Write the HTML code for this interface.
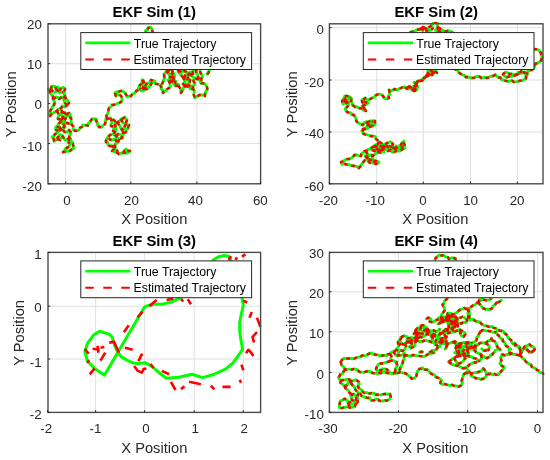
<!DOCTYPE html>
<html><head><meta charset="utf-8"><title>EKF Sim</title>
<style>html,body{margin:0;padding:0;background:#fff;}svg{display:block;filter:blur(0.45px);}text{font-family:"Liberation Sans", Arial, Helvetica, sans-serif;fill:#262626;}
.tk{font-size:13.33px;}.lb{font-size:14.67px;}.tt{font-size:14.9px;font-weight:bold;fill:#000;}.lg{font-size:12.35px;fill:#000;}
.g{fill:none;stroke:#00ff00;stroke-width:2.8;stroke-linejoin:round;stroke-linecap:round;}
.r{fill:none;stroke:#ff0000;stroke-width:2.4;stroke-linejoin:round;stroke-dasharray:3.6 3.8;}
.r3{fill:none;stroke:#ff0000;stroke-width:2.6;stroke-linejoin:round;}.g3{fill:none;stroke:#00ff00;stroke-width:3.0;stroke-linejoin:round;stroke-linecap:butt;}
.gr{stroke:#e0e0e0;stroke-width:1;}.ax{fill:none;stroke:#4a4a4a;stroke-width:1.4;}
</style></head><body>
<svg width="550" height="460" viewBox="0 0 550 460">
<rect width="550" height="460" fill="#fff"/>
<defs><clipPath id="t1"><rect x="329.0" y="298.0" width="69.0" height="114.5"/></clipPath><clipPath id="t2"><rect x="398.0" y="297.0" width="42.0" height="55.0"/></clipPath><clipPath id="t6"><rect x="440.0" y="297.0" width="58.0" height="53.0"/></clipPath><clipPath id="t3"><rect x="398.0" y="352.0" width="68.0" height="60.5"/></clipPath><clipPath id="t4"><rect x="498.0" y="296.0" width="46.0" height="54.0"/></clipPath><clipPath id="t5"><rect x="466.0" y="350.0" width="78.0" height="62.5"/></clipPath></defs>
<g>
<clipPath id="c1"><rect x="46.8" y="22.0" width="215.0" height="163.0"/></clipPath>
<line class="gr" x1="65.7" y1="23.8" x2="65.7" y2="183.8"/>
<line class="gr" x1="130.8" y1="23.8" x2="130.8" y2="183.8"/>
<line class="gr" x1="196.9" y1="23.8" x2="196.9" y2="183.8"/>
<line class="gr" x1="48.0" y1="63.7" x2="260.6" y2="63.7"/>
<line class="gr" x1="48.0" y1="103.6" x2="260.6" y2="103.6"/>
<line class="gr" x1="48.0" y1="143.6" x2="260.6" y2="143.6"/>
<g clip-path="url(#c1)">
<polyline class="g" points="67.0,105.0 65.0,103.0 64.0,100.0 64.4,97.0 65.0,96.0 64.2,94.2 64.0,92.0 65.0,89.0 63.5,87.4 62.0,87.6 60.0,90.0 60.0,89.1 58.0,87.0 56.0,89.0 55.4,86.7 53.0,86.0 51.5,86.6 51.0,89.0 48.0,89.0 49.6,90.0 50.0,92.0 50.3,93.3 52.0,95.0 53.3,97.6 53.0,99.0 53.5,99.8 55.0,102.0 54.0,105.0 52.0,107.0 52.1,108.6 50.6,110.0 49.4,113.0 50.0,116.0 51.9,113.7 53.0,113.0 54.1,112.4 57.0,111.0 58.4,109.1 60.0,109.0 61.9,110.8 62.0,112.0 61.0,115.0 62.6,115.7 63.0,118.0 66.0,117.0 67.0,114.0 69.0,113.0 70.2,114.1 70.0,117.0 71.2,118.9 71.0,121.0 71.2,123.1 72.0,125.0 73.4,126.5 73.0,129.0 73.8,130.1 76.0,131.0 79.0,130.0 80.0,127.7 82.0,127.0 82.8,125.1 85.0,125.0 88.0,125.6 88.4,123.4 90.0,122.0 90.6,121.0 92.0,119.0 93.6,119.0 96.0,119.0 96.1,120.7 97.4,123.0 97.2,124.5 99.0,127.0 102.0,127.0 102.5,126.0 105.0,124.0 105.6,120.9 106.0,119.0 106.6,117.9 106.5,115.6 108.0,113.0 108.4,110.5 109.0,108.0 111.2,106.3 112.0,105.0 114.0,104.9 116.0,104.0 119.5,102.7 121.0,102.0 122.2,100.4 122.0,98.0 121.3,96.3 120.0,95.0 117.7,94.6 116.0,96.0 115.0,93.6 115.8,91.9 118.0,92.0 120.5,91.0 122.0,91.0 122.8,91.2 125.0,93.0 126.7,95.7 127.0,97.0 129.3,96.1 131.0,96.0 132.5,94.1 135.0,93.0 136.4,90.8 138.0,90.0 138.9,87.0 140.0,85.0 141.9,83.4 142.0,80.0 143.1,81.5 144.0,84.0 145.4,86.1 145.0,89.0 143.0,91.0 144.7,89.0 147.0,89.0 148.3,87.4 150.0,86.0 151.5,83.4 153.0,82.0 155.0,81.0"/>
<polyline class="g" points="63.0,118.0 62.0,118.5 61.0,121.0 61.5,121.7 63.0,124.0 63.8,124.6 65.0,127.0 62.5,127.6 62.0,129.0 60.0,130.2 59.0,131.0 57.1,133.0 55.0,134.0 53.8,135.9 52.0,137.0 53.8,138.8 54.0,141.0 55.2,141.0 57.0,139.0 57.8,137.4 60.0,135.0 61.8,135.1 63.0,137.0 64.7,139.3 65.0,140.0 68.0,139.0 69.8,140.5 71.0,141.0 72.6,142.3 73.0,145.0 74.0,148.0 72.5,149.0 71.0,150.0 69.7,151.1 67.0,151.0 65.7,151.7 63.0,152.0 64.8,150.9 65.0,149.0 67.4,147.5 69.0,147.0 70.0,144.0 68.0,142.0"/>
<polyline class="g" points="65.0,96.0 65.1,97.3 67.0,100.0 67.7,100.7 69.0,103.0 67.0,105.0"/>
<polyline class="g" points="60.0,109.0 61.7,107.6 62.0,106.0 65.0,107.0 67.0,105.0"/>
<polyline class="g" points="62.0,112.0 65.0,113.0 65.8,115.3 66.0,117.0 65.4,119.0 64.0,121.0 64.5,122.6 67.0,123.0 70.0,124.0"/>
<polyline class="g" points="61.0,121.0 60.0,122.5 58.0,124.0 59.1,126.3 60.0,128.0 60.6,129.5 63.0,130.0 63.5,127.6 65.0,127.0"/>
<polyline class="g" points="106.0,119.0 107.5,119.0 110.0,118.0 111.4,119.5 114.0,120.0 115.5,122.0 115.0,124.0 116.3,123.0 118.0,122.0 119.9,121.0 121.0,119.0 123.2,118.3 125.0,117.0 125.2,117.8 127.0,120.0 126.0,122.5 126.0,124.0 129.0,125.0 128.1,127.1 128.0,129.0 126.0,129.6 126.0,132.0 124.0,133.3 123.0,134.0 122.9,136.4 122.0,138.0 119.0,139.0 117.1,137.5 116.0,136.0 114.0,134.0 111.9,134.4 110.0,135.0 107.7,137.3 107.0,138.0 105.9,141.0 106.0,142.0 107.9,142.5 108.0,145.0 109.9,146.1 112.0,146.0 113.9,147.4 114.0,149.0 112.0,151.0 115.0,152.0 116.5,152.4 119.0,154.0 121.9,152.9 123.0,153.0 124.7,150.3 126.0,149.0 128.0,150.9 130.0,151.0 128.0,153.0 125.3,153.1 124.0,152.0"/>
<polyline class="g" points="115.0,124.0 115.5,126.8 116.0,128.0 115.9,129.5 115.0,132.0 114.0,134.0"/>
<polyline class="g" points="119.0,139.0 118.8,141.0 117.0,143.0 115.0,144.0 115.0,147.0 114.0,149.0"/>
<polyline class="g" points="126.0,124.0 125.0,125.9 124.0,128.0 123.3,129.3 123.0,131.6 123.0,134.0"/>
<polyline class="g" points="145.0,86.0 147.2,83.5 148.0,83.0 150.0,82.2 151.0,80.0 154.0,81.0 154.7,83.4 157.0,84.0 160.0,85.0 161.9,84.3 163.0,82.0 163.6,79.7 165.0,78.0 164.3,77.0 164.0,74.0 165.7,72.7 167.0,72.0 168.4,70.6 170.0,70.0 170.1,67.7 172.0,67.0"/>
<polyline class="g" points="160.0,85.0 161.2,86.6 161.0,89.0 162.9,90.5 163.0,93.0 164.0,92.0 166.0,91.0 166.9,89.2 169.0,88.0 170.4,86.8 170.0,84.0 169.6,82.3 168.0,80.0 169.8,79.4 170.0,77.0 173.0,78.0 174.1,80.4 175.0,82.0 175.6,83.5 178.0,84.0 178.9,86.5 180.0,88.0 180.8,90.1 181.0,93.0 181.1,92.4 183.0,90.0 183.3,87.9 185.0,86.0 186.2,84.6 188.0,84.0 189.5,83.0 190.0,80.0 188.5,78.3 188.0,76.0 188.6,74.1 190.0,72.0 191.3,72.3 193.0,74.0 192.8,71.4 194.0,70.0 195.0,67.0"/>
<polyline class="g" points="185.0,86.0 187.8,86.5 189.0,87.0 190.4,88.8 193.0,89.0 194.5,90.9 194.0,93.0 193.8,94.9 195.0,98.0 195.7,96.7 198.0,96.0 199.2,95.0 202.0,95.0 205.0,96.0 205.0,93.6 206.0,91.0 207.3,89.5 207.0,87.0 205.8,85.3 205.0,84.0 203.0,83.3 201.0,83.0 199.7,80.1 199.0,79.0 198.1,77.9 198.0,75.0 196.3,73.0 196.0,71.0 197.0,68.0"/>
<polyline class="g" points="207.0,74.0 208.3,73.2 209.0,71.0 210.0,69.0"/>
<polyline class="g" points="178.0,69.0 178.4,71.0 180.0,74.0 181.0,75.3 183.0,77.0 184.4,79.4 186.0,80.0 187.7,78.7 188.0,76.0"/>
<polyline class="g" points="172.0,69.0 172.0,70.6 174.0,74.0 173.4,76.3 172.0,77.0 170.0,77.0"/>
<polyline class="g" points="143.0,80.0 143.9,82.2 145.0,84.0 143.0,86.3 143.0,89.0 141.0,91.0 140.0,88.0"/>
<polyline class="g" points="144.0,34.4 145.7,33.1 145.6,30.4 147.5,30.1 148.0,28.0 150.4,27.2 152.2,29.6 152.3,31.2 153.4,34.4"/>
<polyline class="g" points="51.0,89.0 51.8,90.5 54.0,92.0 55.9,91.9 57.0,90.0 58.9,91.8 60.0,93.0 63.0,92.0"/>
<polyline class="g" points="53.0,99.0 55.0,97.9 56.0,97.0 57.6,97.1 59.0,99.0 61.1,97.5 62.0,97.0 63.8,98.8 64.0,100.0"/>
<polyline class="g" points="57.0,111.0 57.6,112.3 59.0,115.0 58.0,117.3 58.0,119.0 59.9,119.2 61.0,121.0"/>
<polyline class="g" points="65.0,113.0 65.6,114.0 68.0,115.0 69.7,115.8 71.0,117.0"/>
<polyline class="g" points="60.0,128.0 57.9,127.2 57.0,126.0 55.5,127.6 56.0,130.0 59.0,131.0"/>
<polyline class="g" points="63.0,130.0 64.4,131.9 66.0,132.0 67.8,131.8 69.0,130.0 70.0,131.0 71.0,133.0 69.5,135.9 69.0,137.0 70.4,138.6 71.0,141.0"/>
<polyline class="g" points="57.0,139.0 60.0,140.0 60.5,138.5 63.0,137.0"/>
<polyline class="g" points="110.0,118.0 111.3,119.8 112.0,122.0 111.0,124.3 111.0,126.0 113.4,126.5 114.0,128.0 113.0,131.0 115.0,132.0"/>
<polyline class="g" points="118.0,122.0 118.1,123.7 120.0,126.0 120.8,128.4 122.0,130.0 124.0,128.0"/>
<polyline class="g" points="116.0,136.0 118.0,134.0 121.0,135.0 122.0,138.0"/>
<polyline class="g" points="109.0,138.0 109.9,139.6 112.0,140.0 115.0,139.0 116.5,141.0 117.0,143.0"/>
<polyline class="g" points="112.0,146.0 115.0,147.0 115.4,149.4 117.0,150.0 117.6,152.6 119.0,154.0"/>
<polyline class="g" points="121.0,119.0 121.5,120.4 123.0,123.0 126.0,124.0"/>
<polyline class="g" points="166.0,71.0 168.0,72.6 169.0,75.0 171.4,74.0 172.0,73.0 172.9,73.9 175.0,76.0 173.8,78.3 173.0,80.0 176.0,81.0"/>
<polyline class="g" points="178.0,71.0 180.4,71.3 181.0,73.0 182.3,71.4 184.0,71.0 186.4,71.8 187.0,74.0 185.1,75.1 185.0,78.0 186.3,79.8 188.0,80.0"/>
<polyline class="g" points="170.0,80.0 172.3,82.0 173.0,83.0 175.5,85.4 176.0,86.0 179.0,85.0"/>
<polyline class="g" points="183.0,77.0 183.7,78.4 185.0,81.0 184.9,83.0 183.0,84.0 185.0,86.0"/>
<polyline class="g" points="191.0,73.0 191.1,75.3 193.0,77.0 194.3,77.7 196.0,79.0 199.0,79.0"/>
<polyline class="g" points="193.0,80.0 193.7,81.3 195.0,84.0 193.0,86.1 193.0,89.0"/>
<polyline class="g" points="188.0,84.0 189.2,85.9 191.0,86.0 191.2,88.4 193.0,89.0"/>
<polyline class="g" points="200.0,71.0 200.4,72.7 202.0,75.0 202.4,77.6 201.4,78.1 201.2,80.7 201.0,83.0"/>
<polyline class="r" points="67.0,105.0 65.0,103.0 64.0,100.0 64.4,97.0 65.0,96.0 64.2,94.2 64.0,92.0 65.0,89.0 63.5,87.4 62.0,87.6 60.0,90.0 60.0,89.1 58.0,87.0 56.0,89.0 55.4,86.7 53.0,86.0 51.5,86.6 51.0,89.0 48.0,89.0 49.6,90.0 50.0,92.0 50.3,93.3 52.0,95.0 53.3,97.6 53.0,99.0 53.5,99.8 55.0,102.0 54.0,105.0 52.0,107.0 52.1,108.6 50.6,110.0 49.4,113.0 50.0,116.0 51.9,113.7 53.0,113.0 54.1,112.4 57.0,111.0 58.4,109.1 60.0,109.0 61.9,110.8 62.0,112.0 61.0,115.0 62.6,115.7 63.0,118.0 66.0,117.0 67.0,114.0 69.0,113.0 70.2,114.1 70.0,117.0 71.2,118.9 71.0,121.0 71.2,123.1 72.0,125.0 73.4,126.5 73.0,129.0 73.8,130.1 76.0,131.0 79.0,130.0 80.0,127.7 82.0,127.0 82.8,125.1 85.0,125.0 88.0,125.6 88.4,123.4 90.0,122.0 90.6,121.0 92.0,119.0 93.6,119.0 96.0,119.0 96.1,120.7 97.4,123.0 97.2,124.5 99.0,127.0 102.0,127.0 102.5,126.0 105.0,124.0 105.6,120.9 106.0,119.0 106.6,117.9 106.5,115.6 108.0,113.0 108.4,110.5 109.0,108.0 111.2,106.3 112.0,105.0 114.0,104.9 116.0,104.0 119.5,102.7 121.0,102.0 122.2,100.4 122.0,98.0 121.3,96.3 120.0,95.0 117.7,94.6 116.0,96.0 115.0,93.6 115.8,91.9 118.0,92.0 120.5,91.0 122.0,91.0 122.8,91.2 125.0,93.0 126.7,95.7 127.0,97.0 129.3,96.1 131.0,96.0 132.5,94.1 135.0,93.0 136.4,90.8 138.0,90.0 138.9,87.0 140.0,85.0 141.9,83.4 142.0,80.0 143.1,81.5 144.0,84.0 145.4,86.1 145.0,89.0 143.0,91.0 144.7,89.0 147.0,89.0 148.3,87.4 150.0,86.0 151.5,83.4 153.0,82.0 155.0,81.0"/>
<polyline class="r" points="63.0,118.0 62.0,118.5 61.0,121.0 61.5,121.7 63.0,124.0 63.8,124.6 65.0,127.0 62.5,127.6 62.0,129.0 60.0,130.2 59.0,131.0 57.1,133.0 55.0,134.0 53.8,135.9 52.0,137.0 53.8,138.8 54.0,141.0 55.2,141.0 57.0,139.0 57.8,137.4 60.0,135.0 61.8,135.1 63.0,137.0 64.7,139.3 65.0,140.0 68.0,139.0 69.8,140.5 71.0,141.0 72.6,142.3 73.0,145.0 74.0,148.0 72.5,149.0 71.0,150.0 69.7,151.1 67.0,151.0 65.7,151.7 63.0,152.0 64.8,150.9 65.0,149.0 67.4,147.5 69.0,147.0 70.0,144.0 68.0,142.0"/>
<polyline class="r" points="65.0,96.0 65.1,97.3 67.0,100.0 67.7,100.7 69.0,103.0 67.0,105.0"/>
<polyline class="r" points="60.0,109.0 61.7,107.6 62.0,106.0 65.0,107.0 67.0,105.0"/>
<polyline class="r" points="62.0,112.0 65.0,113.0 65.8,115.3 66.0,117.0 65.4,119.0 64.0,121.0 64.5,122.6 67.0,123.0 70.0,124.0"/>
<polyline class="r" points="61.0,121.0 60.0,122.5 58.0,124.0 59.1,126.3 60.0,128.0 60.6,129.5 63.0,130.0 63.5,127.6 65.0,127.0"/>
<polyline class="r" points="106.0,119.0 107.5,119.0 110.0,118.0 111.4,119.5 114.0,120.0 115.5,122.0 115.0,124.0 116.3,123.0 118.0,122.0 119.9,121.0 121.0,119.0 123.2,118.3 125.0,117.0 125.2,117.8 127.0,120.0 126.0,122.5 126.0,124.0 129.0,125.0 128.1,127.1 128.0,129.0 126.0,129.6 126.0,132.0 124.0,133.3 123.0,134.0 122.9,136.4 122.0,138.0 119.0,139.0 117.1,137.5 116.0,136.0 114.0,134.0 111.9,134.4 110.0,135.0 107.7,137.3 107.0,138.0 105.9,141.0 106.0,142.0 107.9,142.5 108.0,145.0 109.9,146.1 112.0,146.0 113.9,147.4 114.0,149.0 112.0,151.0 115.0,152.0 116.5,152.4 119.0,154.0 121.9,152.9 123.0,153.0 124.7,150.3 126.0,149.0 128.0,150.9 130.0,151.0 128.0,153.0 125.3,153.1 124.0,152.0"/>
<polyline class="r" points="115.0,124.0 115.5,126.8 116.0,128.0 115.9,129.5 115.0,132.0 114.0,134.0"/>
<polyline class="r" points="119.0,139.0 118.8,141.0 117.0,143.0 115.0,144.0 115.0,147.0 114.0,149.0"/>
<polyline class="r" points="126.0,124.0 125.0,125.9 124.0,128.0 123.3,129.3 123.0,131.6 123.0,134.0"/>
<polyline class="r" points="145.0,86.0 147.2,83.5 148.0,83.0 150.0,82.2 151.0,80.0 154.0,81.0 154.7,83.4 157.0,84.0 160.0,85.0 161.9,84.3 163.0,82.0 163.6,79.7 165.0,78.0 164.3,77.0 164.0,74.0 165.7,72.7 167.0,72.0 168.4,70.6 170.0,70.0 170.1,67.7 172.0,67.0"/>
<polyline class="r" points="160.0,85.0 161.2,86.6 161.0,89.0 162.9,90.5 163.0,93.0 164.0,92.0 166.0,91.0 166.9,89.2 169.0,88.0 170.4,86.8 170.0,84.0 169.6,82.3 168.0,80.0 169.8,79.4 170.0,77.0 173.0,78.0 174.1,80.4 175.0,82.0 175.6,83.5 178.0,84.0 178.9,86.5 180.0,88.0 180.8,90.1 181.0,93.0 181.1,92.4 183.0,90.0 183.3,87.9 185.0,86.0 186.2,84.6 188.0,84.0 189.5,83.0 190.0,80.0 188.5,78.3 188.0,76.0 188.6,74.1 190.0,72.0 191.3,72.3 193.0,74.0 192.8,71.4 194.0,70.0 195.0,67.0"/>
<polyline class="r" points="185.0,86.0 187.8,86.5 189.0,87.0 190.4,88.8 193.0,89.0 194.5,90.9 194.0,93.0 193.8,94.9 195.0,98.0 195.7,96.7 198.0,96.0 199.2,95.0 202.0,95.0 205.0,96.0 205.0,93.6 206.0,91.0 207.3,89.5 207.0,87.0 205.8,85.3 205.0,84.0 203.0,83.3 201.0,83.0 199.7,80.1 199.0,79.0 198.1,77.9 198.0,75.0 196.3,73.0 196.0,71.0 197.0,68.0"/>
<polyline class="r" points="207.0,74.0 208.3,73.2 209.0,71.0 210.0,69.0"/>
<polyline class="r" points="178.0,69.0 178.4,71.0 180.0,74.0 181.0,75.3 183.0,77.0 184.4,79.4 186.0,80.0 187.7,78.7 188.0,76.0"/>
<polyline class="r" points="172.0,69.0 172.0,70.6 174.0,74.0 173.4,76.3 172.0,77.0 170.0,77.0"/>
<polyline class="r" points="143.0,80.0 143.9,82.2 145.0,84.0 143.0,86.3 143.0,89.0 141.0,91.0 140.0,88.0"/>
<polyline class="r" points="144.0,34.4 145.7,33.1 145.6,30.4 147.5,30.1 148.0,28.0 150.4,27.2 152.2,29.6 152.3,31.2 153.4,34.4"/>
<polyline class="r" points="51.0,89.0 51.8,90.5 54.0,92.0 55.9,91.9 57.0,90.0 58.9,91.8 60.0,93.0 63.0,92.0"/>
<polyline class="r" points="53.0,99.0 55.0,97.9 56.0,97.0 57.6,97.1 59.0,99.0 61.1,97.5 62.0,97.0 63.8,98.8 64.0,100.0"/>
<polyline class="r" points="57.0,111.0 57.6,112.3 59.0,115.0 58.0,117.3 58.0,119.0 59.9,119.2 61.0,121.0"/>
<polyline class="r" points="65.0,113.0 65.6,114.0 68.0,115.0 69.7,115.8 71.0,117.0"/>
<polyline class="r" points="60.0,128.0 57.9,127.2 57.0,126.0 55.5,127.6 56.0,130.0 59.0,131.0"/>
<polyline class="r" points="63.0,130.0 64.4,131.9 66.0,132.0 67.8,131.8 69.0,130.0 70.0,131.0 71.0,133.0 69.5,135.9 69.0,137.0 70.4,138.6 71.0,141.0"/>
<polyline class="r" points="57.0,139.0 60.0,140.0 60.5,138.5 63.0,137.0"/>
<polyline class="r" points="110.0,118.0 111.3,119.8 112.0,122.0 111.0,124.3 111.0,126.0 113.4,126.5 114.0,128.0 113.0,131.0 115.0,132.0"/>
<polyline class="r" points="118.0,122.0 118.1,123.7 120.0,126.0 120.8,128.4 122.0,130.0 124.0,128.0"/>
<polyline class="r" points="116.0,136.0 118.0,134.0 121.0,135.0 122.0,138.0"/>
<polyline class="r" points="109.0,138.0 109.9,139.6 112.0,140.0 115.0,139.0 116.5,141.0 117.0,143.0"/>
<polyline class="r" points="112.0,146.0 115.0,147.0 115.4,149.4 117.0,150.0 117.6,152.6 119.0,154.0"/>
<polyline class="r" points="121.0,119.0 121.5,120.4 123.0,123.0 126.0,124.0"/>
<polyline class="r" points="166.0,71.0 168.0,72.6 169.0,75.0 171.4,74.0 172.0,73.0 172.9,73.9 175.0,76.0 173.8,78.3 173.0,80.0 176.0,81.0"/>
<polyline class="r" points="178.0,71.0 180.4,71.3 181.0,73.0 182.3,71.4 184.0,71.0 186.4,71.8 187.0,74.0 185.1,75.1 185.0,78.0 186.3,79.8 188.0,80.0"/>
<polyline class="r" points="170.0,80.0 172.3,82.0 173.0,83.0 175.5,85.4 176.0,86.0 179.0,85.0"/>
<polyline class="r" points="183.0,77.0 183.7,78.4 185.0,81.0 184.9,83.0 183.0,84.0 185.0,86.0"/>
<polyline class="r" points="191.0,73.0 191.1,75.3 193.0,77.0 194.3,77.7 196.0,79.0 199.0,79.0"/>
<polyline class="r" points="193.0,80.0 193.7,81.3 195.0,84.0 193.0,86.1 193.0,89.0"/>
<polyline class="r" points="188.0,84.0 189.2,85.9 191.0,86.0 191.2,88.4 193.0,89.0"/>
<polyline class="r" points="200.0,71.0 200.4,72.7 202.0,75.0 202.4,77.6 201.4,78.1 201.2,80.7 201.0,83.0"/>
</g>
<rect class="ax" x="48.0" y="23.8" width="212.6" height="160.0"/>
<line x1="65.7" y1="183.8" x2="65.7" y2="181.6" stroke="#262626" stroke-width="1"/>
<text class="tk" x="67.0" y="204.6" text-anchor="middle">0</text>
<line x1="130.8" y1="183.8" x2="130.8" y2="181.6" stroke="#262626" stroke-width="1"/>
<text class="tk" x="131.4" y="204.6" text-anchor="middle">20</text>
<line x1="196.9" y1="183.8" x2="196.9" y2="181.6" stroke="#262626" stroke-width="1"/>
<text class="tk" x="195.4" y="204.6" text-anchor="middle">40</text>
<line x1="260.6" y1="183.8" x2="260.6" y2="181.6" stroke="#262626" stroke-width="1"/>
<text class="tk" x="260.3" y="204.6" text-anchor="middle">60</text>
<line x1="48.0" y1="23.8" x2="50.2" y2="23.8" stroke="#262626" stroke-width="1"/>
<text class="tk" x="41.8" y="29.1" text-anchor="end">20</text>
<line x1="48.0" y1="63.7" x2="50.2" y2="63.7" stroke="#262626" stroke-width="1"/>
<text class="tk" x="41.8" y="69.4" text-anchor="end">10</text>
<line x1="48.0" y1="103.6" x2="50.2" y2="103.6" stroke="#262626" stroke-width="1"/>
<text class="tk" x="41.8" y="109.4" text-anchor="end">0</text>
<line x1="48.0" y1="143.6" x2="50.2" y2="143.6" stroke="#262626" stroke-width="1"/>
<text class="tk" x="41.8" y="150.9" text-anchor="end">-10</text>
<line x1="48.0" y1="183.8" x2="50.2" y2="183.8" stroke="#262626" stroke-width="1"/>
<text class="tk" x="41.8" y="190.9" text-anchor="end">-20</text>
<text class="tt" x="154.3" y="17.2" text-anchor="middle">EKF Sim (1)</text>
<text class="lb" x="154.3" y="224.0" text-anchor="middle">X Position</text>
<text class="lb" transform="translate(16.1,104.3) rotate(-90)" text-anchor="middle">Y Position</text>
<rect x="80.8" y="32.6" width="170.8" height="36.9" fill="#fff" stroke="#262626" stroke-width="1"/>
<line x1="85.3" y1="42.9" x2="130.5" y2="42.9" stroke="#00ff00" stroke-width="2.6"/>
<line x1="85.3" y1="59.5" x2="130.5" y2="59.5" stroke="#ff0000" stroke-width="2.0" stroke-dasharray="8.5 9.5"/>
<text class="lg" x="133.8" y="47.5">True Trajectory</text>
<text class="lg" x="133.5" y="64.1">Estimated Trajectory</text>
</g>
<g>
<clipPath id="c2"><rect x="328.2" y="22.0" width="216.0" height="163.0"/></clipPath>
<line class="gr" x1="376.7" y1="23.8" x2="376.7" y2="183.8"/>
<line class="gr" x1="423.3" y1="23.8" x2="423.3" y2="183.8"/>
<line class="gr" x1="470.5" y1="23.8" x2="470.5" y2="183.8"/>
<line class="gr" x1="517.4" y1="23.8" x2="517.4" y2="183.8"/>
<line class="gr" x1="329.4" y1="27.6" x2="543.0" y2="27.6"/>
<line class="gr" x1="329.4" y1="80.0" x2="543.0" y2="80.0"/>
<line class="gr" x1="329.4" y1="132.0" x2="543.0" y2="132.0"/>
<g clip-path="url(#c2)">
<polyline class="g" points="435.0,72.0 433.8,72.4 431.0,74.0 428.7,75.8 427.0,76.0 424.6,77.3 424.0,79.0 422.6,80.5 420.0,81.0 417.6,81.1 417.0,83.0 416.6,85.8 418.0,87.0 416.0,88.5 415.0,89.0 413.8,88.7 411.0,89.0 409.0,87.0 406.5,87.9 405.0,87.0 403.2,87.0 401.0,88.0 399.4,88.6 397.0,90.0 394.6,89.0 393.0,90.0 391.5,90.8 389.0,90.0 389.8,92.9 390.0,94.0 388.5,95.5 389.0,98.0 386.0,99.0 384.5,98.4 383.0,96.0 381.9,94.8 379.0,94.0 376.5,94.9 375.0,96.0 373.5,97.9 372.0,98.0 369.4,99.6 368.0,100.0 367.0,99.6 365.0,98.0 364.0,99.2 362.0,100.0 363.2,100.6 365.0,102.0 368.0,103.0 366.2,104.6 365.0,105.0 362.0,106.0 362.2,106.9 364.0,109.0 366.0,111.0 363.0,110.0 361.5,108.5 359.0,108.0 356.1,106.6 355.0,107.0 353.6,105.7 352.0,105.0 352.5,103.8 351.0,101.0 351.5,98.5 350.0,97.0 347.0,96.0 344.7,96.2 344.0,98.0 343.0,99.9 342.0,101.0 343.0,104.0 346.0,103.0 349.0,102.0 348.4,103.5 348.0,106.0 346.3,107.7 345.0,109.0 346.3,111.0 347.0,112.0 349.7,112.8 351.0,113.0 351.7,114.7 354.0,115.0 354.6,116.6 356.0,118.0 356.2,120.5 357.0,122.0 357.9,122.5 360.0,124.0 363.0,125.0 364.0,122.8 366.0,122.0 368.8,121.7 370.0,121.0 372.2,120.8 375.0,121.0 375.0,124.0 374.5,125.0 372.0,126.0 369.0,127.0 367.0,128.6 366.0,129.0 363.0,129.0 362.0,131.0 363.3,133.5 364.0,134.0 365.2,134.4 368.0,135.0 371.1,136.2 373.0,136.0 375.3,136.6 376.0,139.0 377.1,139.7 379.0,142.0"/>
<polyline class="g" points="362.0,131.0 362.9,130.4 365.0,128.0 366.7,127.4 368.0,125.0 369.2,124.7 371.0,123.0 371.9,124.0 373.0,126.0"/>
<polyline class="g" points="379.0,142.0 377.6,144.4 375.0,145.0 373.0,147.0 370.7,148.2 370.0,149.0 368.2,149.4 366.0,151.0 364.2,151.3 363.0,153.0 361.4,154.0 361.0,156.0 359.2,155.8 357.0,155.0 354.4,155.0 353.0,157.0 350.7,158.4 349.0,159.0 346.4,159.1 345.0,160.0 342.4,161.6 341.0,162.0 342.0,164.4 344.1,163.5 346.0,164.4 347.2,164.5 350.0,165.0 352.6,165.8 355.0,166.0 356.2,166.3 359.0,168.0 360.4,166.3 361.0,165.0 363.0,162.4 365.0,160.0 368.0,159.0 371.0,160.0 371.6,161.1 373.0,163.0 376.0,164.0 378.4,162.8 379.0,162.4 377.6,161.4 376.0,161.0 374.3,160.7 373.0,159.0 372.0,156.0 374.5,154.7 375.0,154.0 375.9,153.5 378.0,152.0 381.0,153.0 379.4,150.5 379.0,150.0 376.0,149.0 375.3,147.8 373.0,147.0"/>
<polyline class="g" points="379.0,142.0 381.6,143.3 383.0,145.0 385.8,143.9 387.0,143.0 390.0,142.0 390.8,142.0 393.0,144.0 392.0,147.0 393.6,148.3 395.0,149.0 397.3,147.2 398.0,147.0 399.7,145.7 401.0,145.0 402.0,142.8 403.0,142.0 404.0,141.0 403.9,143.0 404.6,145.0 405.0,148.0 404.4,148.0 402.0,149.6 400.0,150.9 398.0,151.0 396.9,150.9 394.0,152.0 391.8,151.9 391.0,150.0 388.0,151.0 387.5,150.0 385.0,149.0 382.0,150.0 379.0,150.0"/>
<polyline class="g" points="383.0,145.0 385.0,147.0 386.1,147.4 389.0,146.0 392.0,147.0"/>
<polyline class="g" points="366.0,151.0 366.8,153.3 368.0,154.0 367.2,156.1 366.0,157.0 368.0,159.0"/>
<polyline class="g" points="375.0,145.0 375.8,146.6 378.0,147.0 379.4,146.8 382.0,147.0 384.2,148.7 385.0,149.0"/>
<polyline class="g" points="373.0,147.0 376.0,146.0 379.0,145.0 379.9,145.4 382.0,147.0 385.0,146.0"/>
<polyline class="g" points="372.0,150.0 375.0,151.0 376.3,150.0 378.0,149.0 379.3,149.2 381.0,151.0 384.0,152.0"/>
<polyline class="g" points="387.0,145.0 387.5,146.9 389.0,148.0 392.0,149.0 394.0,147.0"/>
<polyline class="g" points="365.0,156.0 368.0,157.0 370.0,155.0 372.3,155.1 373.0,157.0"/>
<polyline class="g" points="368.0,161.0 370.0,163.0 371.6,162.5 373.0,161.0 375.0,162.4"/>
<polyline class="g" points="396.0,146.0 396.1,148.2 398.0,149.0 401.0,148.0 403.0,146.0"/>
<polyline class="g" points="344.0,98.0 346.0,100.0 349.0,99.0 350.0,97.0"/>
<polyline class="g" points="344.0,101.0 347.0,102.0 348.0,105.0"/>
<polyline class="g" points="362.0,100.0 362.2,102.2 364.0,104.0 363.0,107.0 365.0,109.0"/>
<polyline class="g" points="366.0,122.0 368.0,124.0 371.0,123.0 373.0,121.0"/>
<polyline class="g" points="410.1,32.2 412.7,31.7 415.2,30.7 417.3,29.8 420.3,29.2 422.3,28.2 424.1,27.6 426.3,28.8 427.9,30.2 429.0,27.3 430.4,26.4 432.2,24.4 433.5,22.5 435.5,21.8 437.6,23.1 437.3,25.9 438.1,27.6 437.4,28.8 435.5,30.2 437.4,30.8 440.6,31.5 442.4,30.7 445.7,31.5 448.1,30.6 450.8,31.5 452.6,32.7 454.6,34.0"/>
<polyline class="g" points="420.3,29.2 422.8,27.1 423.4,28.2 425.9,28.7 426.0,30.5 427.9,31.5 430.4,30.2 432.3,28.9 433.0,27.6"/>
<polyline class="g" points="438.1,27.6 440.6,28.9 443.2,30.7"/>
<polyline class="g" points="424.1,27.6 422.6,29.5 422.8,31.5 423.8,33.6 425.4,34.0"/>
<polyline class="g" points="405.0,87.4 406.8,88.8 410.1,88.7 413.0,89.8 413.9,90.0 415.8,87.5 416.5,86.2 416.1,84.2 413.9,82.3 416.7,82.5 417.7,81.1 419.0,81.0 421.5,79.8 424.3,77.7 425.4,77.3 427.0,76.5 429.2,74.7 427.9,73.6 427.9,70.9 430.4,69.6 431.9,71.5 434.3,72.2 434.2,70.3 435.5,68.3"/>
<polyline class="g" points="453.3,68.3 455.9,69.6 458.0,70.3 458.4,72.2 459.9,73.4 462.3,74.7 463.8,75.1 466.1,77.3 468.0,77.0 471.2,78.0 474.6,77.6 476.2,76.5 479.6,76.6 481.3,78.0 484.5,77.2 486.4,78.0 489.0,77.3 491.5,76.0 493.1,76.1 495.3,74.7 496.7,76.1 497.9,77.3 500.5,77.7 501.7,79.8 505.2,80.7 506.8,81.1 509.1,81.4 511.9,80.6 513.9,82.0 517.0,81.6 519.7,80.8 522.0,80.6 524.5,79.4 525.9,78.5 525.9,77.1 527.1,74.7 525.0,74.1 524.6,72.2 521.6,73.1 519.5,73.4 517.9,74.2 514.4,74.7 512.2,74.0 509.3,73.9 506.4,72.1 505.5,72.2 503.5,73.7 503.0,74.7 504.7,76.0 506.8,77.3 510.1,76.1 511.9,76.5 513.9,75.9 517.0,74.7 517.9,72.4 520.8,72.2 521.8,69.5 523.3,68.3"/>
<polyline class="g" points="533.5,49.3 535.8,49.1 538.6,50.0 540.0,51.7 541.1,53.1 541.2,55.2 542.4,56.9 541.7,58.1 541.1,60.7 540.1,61.5 537.3,63.3 535.3,63.7 534.8,65.8 533.8,68.5 532.2,69.6 530.9,70.1 528.4,70.9 527.3,71.8 527.1,74.7"/>
<polyline class="g" points="426.0,76.0 427.8,74.1 429.0,72.0 430.2,73.8 432.0,75.0 433.4,73.9 435.0,71.0 437.0,73.0 436.0,71.0 434.0,70.0 432.8,68.6 430.0,69.0"/>
<polyline class="g" points="409.0,86.0 410.6,87.3 412.0,89.0 413.0,86.6 415.0,86.0 416.6,87.0 417.0,90.0 414.0,91.0 412.6,90.4 411.0,88.0"/>
<polyline class="r" points="435.0,72.0 433.8,72.4 431.0,74.0 428.7,75.8 427.0,76.0 424.6,77.3 424.0,79.0 422.6,80.5 420.0,81.0 417.6,81.1 417.0,83.0 416.6,85.8 418.0,87.0 416.0,88.5 415.0,89.0 413.8,88.7 411.0,89.0 409.0,87.0 406.5,87.9 405.0,87.0 403.2,87.0 401.0,88.0 399.4,88.6 397.0,90.0 394.6,89.0 393.0,90.0 391.5,90.8 389.0,90.0 389.8,92.9 390.0,94.0 388.5,95.5 389.0,98.0 386.0,99.0 384.5,98.4 383.0,96.0 381.9,94.8 379.0,94.0 376.5,94.9 375.0,96.0 373.5,97.9 372.0,98.0 369.4,99.6 368.0,100.0 367.0,99.6 365.0,98.0 364.0,99.2 362.0,100.0 363.2,100.6 365.0,102.0 368.0,103.0 366.2,104.6 365.0,105.0 362.0,106.0 362.2,106.9 364.0,109.0 366.0,111.0 363.0,110.0 361.5,108.5 359.0,108.0 356.1,106.6 355.0,107.0 353.6,105.7 352.0,105.0 352.5,103.8 351.0,101.0 351.5,98.5 350.0,97.0 347.0,96.0 344.7,96.2 344.0,98.0 343.0,99.9 342.0,101.0 343.0,104.0 346.0,103.0 349.0,102.0 348.4,103.5 348.0,106.0 346.3,107.7 345.0,109.0 346.3,111.0 347.0,112.0 349.7,112.8 351.0,113.0 351.7,114.7 354.0,115.0 354.6,116.6 356.0,118.0 356.2,120.5 357.0,122.0 357.9,122.5 360.0,124.0 363.0,125.0 364.0,122.8 366.0,122.0 368.8,121.7 370.0,121.0 372.2,120.8 375.0,121.0 375.0,124.0 374.5,125.0 372.0,126.0 369.0,127.0 367.0,128.6 366.0,129.0 363.0,129.0 362.0,131.0 363.3,133.5 364.0,134.0 365.2,134.4 368.0,135.0 371.1,136.2 373.0,136.0 375.3,136.6 376.0,139.0 377.1,139.7 379.0,142.0"/>
<polyline class="r" points="362.0,131.0 362.9,130.4 365.0,128.0 366.7,127.4 368.0,125.0 369.2,124.7 371.0,123.0 371.9,124.0 373.0,126.0"/>
<polyline class="r" points="379.0,142.0 377.6,144.4 375.0,145.0 373.0,147.0 370.7,148.2 370.0,149.0 368.2,149.4 366.0,151.0 364.2,151.3 363.0,153.0 361.4,154.0 361.0,156.0 359.2,155.8 357.0,155.0 354.4,155.0 353.0,157.0 350.7,158.4 349.0,159.0 346.4,159.1 345.0,160.0 342.4,161.6 341.0,162.0 342.0,164.4 344.1,163.5 346.0,164.4 347.2,164.5 350.0,165.0 352.6,165.8 355.0,166.0 356.2,166.3 359.0,168.0 360.4,166.3 361.0,165.0 363.0,162.4 365.0,160.0 368.0,159.0 371.0,160.0 371.6,161.1 373.0,163.0 376.0,164.0 378.4,162.8 379.0,162.4 377.6,161.4 376.0,161.0 374.3,160.7 373.0,159.0 372.0,156.0 374.5,154.7 375.0,154.0 375.9,153.5 378.0,152.0 381.0,153.0 379.4,150.5 379.0,150.0 376.0,149.0 375.3,147.8 373.0,147.0"/>
<polyline class="r" points="379.0,142.0 381.6,143.3 383.0,145.0 385.8,143.9 387.0,143.0 390.0,142.0 390.8,142.0 393.0,144.0 392.0,147.0 393.6,148.3 395.0,149.0 397.3,147.2 398.0,147.0 399.7,145.7 401.0,145.0 402.0,142.8 403.0,142.0 404.0,141.0 403.9,143.0 404.6,145.0 405.0,148.0 404.4,148.0 402.0,149.6 400.0,150.9 398.0,151.0 396.9,150.9 394.0,152.0 391.8,151.9 391.0,150.0 388.0,151.0 387.5,150.0 385.0,149.0 382.0,150.0 379.0,150.0"/>
<polyline class="r" points="383.0,145.0 385.0,147.0 386.1,147.4 389.0,146.0 392.0,147.0"/>
<polyline class="r" points="366.0,151.0 366.8,153.3 368.0,154.0 367.2,156.1 366.0,157.0 368.0,159.0"/>
<polyline class="r" points="375.0,145.0 375.8,146.6 378.0,147.0 379.4,146.8 382.0,147.0 384.2,148.7 385.0,149.0"/>
<polyline class="r" points="373.0,147.0 376.0,146.0 379.0,145.0 379.9,145.4 382.0,147.0 385.0,146.0"/>
<polyline class="r" points="372.0,150.0 375.0,151.0 376.3,150.0 378.0,149.0 379.3,149.2 381.0,151.0 384.0,152.0"/>
<polyline class="r" points="387.0,145.0 387.5,146.9 389.0,148.0 392.0,149.0 394.0,147.0"/>
<polyline class="r" points="365.0,156.0 368.0,157.0 370.0,155.0 372.3,155.1 373.0,157.0"/>
<polyline class="r" points="368.0,161.0 370.0,163.0 371.6,162.5 373.0,161.0 375.0,162.4"/>
<polyline class="r" points="396.0,146.0 396.1,148.2 398.0,149.0 401.0,148.0 403.0,146.0"/>
<polyline class="r" points="344.0,98.0 346.0,100.0 349.0,99.0 350.0,97.0"/>
<polyline class="r" points="344.0,101.0 347.0,102.0 348.0,105.0"/>
<polyline class="r" points="362.0,100.0 362.2,102.2 364.0,104.0 363.0,107.0 365.0,109.0"/>
<polyline class="r" points="366.0,122.0 368.0,124.0 371.0,123.0 373.0,121.0"/>
<polyline class="r" points="410.1,32.2 412.7,31.7 415.2,30.7 417.3,29.8 420.3,29.2 422.3,28.2 424.1,27.6 426.3,28.8 427.9,30.2 429.0,27.3 430.4,26.4 432.2,24.4 433.5,22.5 435.5,21.8 437.6,23.1 437.3,25.9 438.1,27.6 437.4,28.8 435.5,30.2 437.4,30.8 440.6,31.5 442.4,30.7 445.7,31.5 448.1,30.6 450.8,31.5 452.6,32.7 454.6,34.0"/>
<polyline class="r" points="420.3,29.2 422.8,27.1 423.4,28.2 425.9,28.7 426.0,30.5 427.9,31.5 430.4,30.2 432.3,28.9 433.0,27.6"/>
<polyline class="r" points="438.1,27.6 440.6,28.9 443.2,30.7"/>
<polyline class="r" points="424.1,27.6 422.6,29.5 422.8,31.5 423.8,33.6 425.4,34.0"/>
<polyline class="r" points="405.0,87.4 406.8,88.8 410.1,88.7 413.0,89.8 413.9,90.0 415.8,87.5 416.5,86.2 416.1,84.2 413.9,82.3 416.7,82.5 417.7,81.1 419.0,81.0 421.5,79.8 424.3,77.7 425.4,77.3 427.0,76.5 429.2,74.7 427.9,73.6 427.9,70.9 430.4,69.6 431.9,71.5 434.3,72.2 434.2,70.3 435.5,68.3"/>
<polyline class="r" points="453.3,68.3 455.9,69.6 458.0,70.3 458.4,72.2 459.9,73.4 462.3,74.7 463.8,75.1 466.1,77.3 468.0,77.0 471.2,78.0 474.6,77.6 476.2,76.5 479.6,76.6 481.3,78.0 484.5,77.2 486.4,78.0 489.0,77.3 491.5,76.0 493.1,76.1 495.3,74.7 496.7,76.1 497.9,77.3 500.5,77.7 501.7,79.8 505.2,80.7 506.8,81.1 509.1,81.4 511.9,80.6 513.9,82.0 517.0,81.6 519.7,80.8 522.0,80.6 524.5,79.4 525.9,78.5 525.9,77.1 527.1,74.7 525.0,74.1 524.6,72.2 521.6,73.1 519.5,73.4 517.9,74.2 514.4,74.7 512.2,74.0 509.3,73.9 506.4,72.1 505.5,72.2 503.5,73.7 503.0,74.7 504.7,76.0 506.8,77.3 510.1,76.1 511.9,76.5 513.9,75.9 517.0,74.7 517.9,72.4 520.8,72.2 521.8,69.5 523.3,68.3"/>
<polyline class="r" points="533.5,49.3 535.8,49.1 538.6,50.0 540.0,51.7 541.1,53.1 541.2,55.2 542.4,56.9 541.7,58.1 541.1,60.7 540.1,61.5 537.3,63.3 535.3,63.7 534.8,65.8 533.8,68.5 532.2,69.6 530.9,70.1 528.4,70.9 527.3,71.8 527.1,74.7"/>
<polyline class="r" points="426.0,76.0 427.8,74.1 429.0,72.0 430.2,73.8 432.0,75.0 433.4,73.9 435.0,71.0 437.0,73.0 436.0,71.0 434.0,70.0 432.8,68.6 430.0,69.0"/>
<polyline class="r" points="409.0,86.0 410.6,87.3 412.0,89.0 413.0,86.6 415.0,86.0 416.6,87.0 417.0,90.0 414.0,91.0 412.6,90.4 411.0,88.0"/>
</g>
<rect class="ax" x="329.4" y="23.8" width="213.6" height="160.0"/>
<line x1="329.4" y1="183.8" x2="329.4" y2="181.6" stroke="#262626" stroke-width="1"/>
<text class="tk" x="328.4" y="204.6" text-anchor="middle">-20</text>
<line x1="376.7" y1="183.8" x2="376.7" y2="181.6" stroke="#262626" stroke-width="1"/>
<text class="tk" x="375.2" y="204.6" text-anchor="middle">-10</text>
<line x1="423.3" y1="183.8" x2="423.3" y2="181.6" stroke="#262626" stroke-width="1"/>
<text class="tk" x="423.0" y="204.6" text-anchor="middle">0</text>
<line x1="470.5" y1="183.8" x2="470.5" y2="181.6" stroke="#262626" stroke-width="1"/>
<text class="tk" x="470.6" y="204.6" text-anchor="middle">10</text>
<line x1="517.4" y1="183.8" x2="517.4" y2="181.6" stroke="#262626" stroke-width="1"/>
<text class="tk" x="517.1" y="204.6" text-anchor="middle">20</text>
<line x1="329.4" y1="27.6" x2="331.6" y2="27.6" stroke="#262626" stroke-width="1"/>
<text class="tk" x="323.8" y="33.5" text-anchor="end">0</text>
<line x1="329.4" y1="80.0" x2="331.6" y2="80.0" stroke="#262626" stroke-width="1"/>
<text class="tk" x="323.8" y="86.5" text-anchor="end">-20</text>
<line x1="329.4" y1="132.0" x2="331.6" y2="132.0" stroke="#262626" stroke-width="1"/>
<text class="tk" x="323.8" y="138.1" text-anchor="end">-40</text>
<line x1="329.4" y1="183.8" x2="331.6" y2="183.8" stroke="#262626" stroke-width="1"/>
<text class="tk" x="323.8" y="190.8" text-anchor="end">-60</text>
<text class="tt" x="436.2" y="17.2" text-anchor="middle">EKF Sim (2)</text>
<text class="lb" x="435.3" y="224.0" text-anchor="middle">X Position</text>
<text class="lb" transform="translate(297.2,104.3) rotate(-90)" text-anchor="middle">Y Position</text>
<rect x="363.3" y="32.6" width="170.7" height="36.9" fill="#fff" stroke="#262626" stroke-width="1"/>
<line x1="367.8" y1="42.9" x2="413.0" y2="42.9" stroke="#00ff00" stroke-width="2.6"/>
<line x1="367.8" y1="59.5" x2="413.0" y2="59.5" stroke="#ff0000" stroke-width="2.0" stroke-dasharray="8.5 9.5"/>
<text class="lg" x="416.3" y="47.5">True Trajectory</text>
<text class="lg" x="416.0" y="64.1">Estimated Trajectory</text>
</g>
<g>
<clipPath id="c3"><rect x="46.8" y="250.6" width="215.0" height="163.0"/></clipPath>
<line class="gr" x1="95.6" y1="252.4" x2="95.6" y2="412.4"/>
<line class="gr" x1="144.6" y1="252.4" x2="144.6" y2="412.4"/>
<line class="gr" x1="194.2" y1="252.4" x2="194.2" y2="412.4"/>
<line class="gr" x1="243.3" y1="252.4" x2="243.3" y2="412.4"/>
<line class="gr" x1="48.0" y1="306.2" x2="260.6" y2="306.2"/>
<line class="gr" x1="48.0" y1="359.0" x2="260.6" y2="359.0"/>
<g clip-path="url(#c3)">
<polyline class="g3" points="211.0,263.0 213.2,260.0 217.6,257.3 224.3,255.5 228.7,256.2 231.0,260.0 232.0,263.0"/>
<polyline class="g3" points="182.0,296.0 180.0,297.7 177.7,299.2 171.0,302.1 162.2,304.3 153.3,304.3 146.7,306.0 144.5,307.1 104.4,375.2 94.6,368.4 87.7,361.5 84.8,351.8 87.7,342.9 93.6,335.1 99.5,331.2 109.2,334.1 112.2,337.1 114.1,343.9 117.1,350.8 121.0,356.6 127.8,360.6 133.7,363.1 137.3,363.6 145.5,362.7 151.8,366.4 159.1,372.7 166.4,378.2 179.1,377.3 191.8,374.2 202.7,377.6 213.6,374.5 225.5,369.1 232.4,363.4 236.9,357.7 242.6,349.3 241.0,340.6 239.7,331.5 239.7,322.4 241.5,313.3 243.3,305.3 242.0,298.4 241.8,295.0"/>
<polyline class="r3" points="142.5,311.6 137.6,317.5"/>
<polyline class="r3" points="128.8,325.3 123.9,332.2"/>
<polyline class="r3" points="109.2,342.6 115.1,341.6"/>
<polyline class="r3" points="114.1,342.0 119.0,352.7"/>
<polyline class="r3" points="105.3,352.7 100.4,360.6"/>
<polyline class="r3" points="94.6,368.4 89.7,374.3"/>
<polyline class="r3" points="84.8,348.8 88.7,353.7"/>
<polyline class="r3" points="86.7,362.5 89.7,360.6"/>
<polyline class="r3" points="92.6,348.8 99.5,349.8"/>
<polyline class="r3" points="97.5,345.9 98.5,352.7"/>
<polyline class="r3" points="100.4,347.8 104.4,346.9"/>
<polyline class="r3" points="124.9,347.8 132.7,349.8"/>
<polyline class="r3" points="142.2,353.6 138.4,361.2"/>
<polyline class="r3" points="134.2,366.0 137.4,370.6 141.8,372.6 143.6,369.1 146.4,368.5"/>
<polyline class="r3" points="150.6,364.0 153.5,368.0"/>
<polyline class="r3" points="161.8,370.9 169.1,374.2"/>
<polyline class="r3" points="170.9,381.8 175.5,390.0"/>
<polyline class="r3" points="180.9,389.1 184.5,386.4"/>
<polyline class="r3" points="189.1,381.8 200.9,384.2"/>
<polyline class="r3" points="210.8,385.6 214.3,389.3"/>
<polyline class="r3" points="222.4,386.9 230.6,386.9"/>
<polyline class="r3" points="239.7,379.9 241.0,382.8"/>
<polyline class="r3" points="241.5,364.6 243.3,370.3"/>
<polyline class="r3" points="246.1,353.2 248.3,349.8 250.6,352.0 253.4,356.1"/>
<polyline class="r3" points="257.0,332.0 252.5,337.2 254.1,342.5"/>
<polyline class="r3" points="257.0,317.8 260.4,326.9"/>
<polyline class="r3" points="251.8,312.1 249.5,317.8"/>
<polyline class="r3" points="243.3,300.7 247.2,302.5"/>
<polyline class="r3" points="228.7,260.0 231.0,256.2"/>
<polyline class="r3" points="235.4,260.0 237.0,257.3"/>
<polyline class="r3" points="242.0,256.7 245.4,254.4"/>
<polyline class="r3" points="149.5,306.0 156.6,299.9"/>
<polyline class="r3" points="166.6,299.9 173.3,298.4"/>
<polyline class="r3" points="181.0,298.8 183.3,301.5"/>
<polyline class="r3" points="187.7,299.2 191.0,304.3"/>
</g>
<rect class="ax" x="48.0" y="252.4" width="212.6" height="160.0"/>
<line x1="47.6" y1="412.4" x2="47.6" y2="410.2" stroke="#262626" stroke-width="1"/>
<text class="tk" x="46.3" y="433.2" text-anchor="middle">-2</text>
<line x1="95.6" y1="412.4" x2="95.6" y2="410.2" stroke="#262626" stroke-width="1"/>
<text class="tk" x="95.5" y="433.2" text-anchor="middle">-1</text>
<line x1="144.6" y1="412.4" x2="144.6" y2="410.2" stroke="#262626" stroke-width="1"/>
<text class="tk" x="146.0" y="433.2" text-anchor="middle">0</text>
<line x1="194.2" y1="412.4" x2="194.2" y2="410.2" stroke="#262626" stroke-width="1"/>
<text class="tk" x="195.1" y="433.2" text-anchor="middle">1</text>
<line x1="243.3" y1="412.4" x2="243.3" y2="410.2" stroke="#262626" stroke-width="1"/>
<text class="tk" x="244.1" y="433.2" text-anchor="middle">2</text>
<line x1="48.0" y1="252.4" x2="50.2" y2="252.4" stroke="#262626" stroke-width="1"/>
<text class="tk" x="41.6" y="259.1" text-anchor="end">1</text>
<line x1="48.0" y1="306.2" x2="50.2" y2="306.2" stroke="#262626" stroke-width="1"/>
<text class="tk" x="41.6" y="312.4" text-anchor="end">0</text>
<line x1="48.0" y1="359.0" x2="50.2" y2="359.0" stroke="#262626" stroke-width="1"/>
<text class="tk" x="41.6" y="367.2" text-anchor="end">-1</text>
<line x1="48.0" y1="412.4" x2="50.2" y2="412.4" stroke="#262626" stroke-width="1"/>
<text class="tk" x="41.6" y="419.4" text-anchor="end">-2</text>
<text class="tt" x="154.3" y="245.8" text-anchor="middle">EKF Sim (3)</text>
<text class="lb" x="154.3" y="452.6" text-anchor="middle">X Position</text>
<text class="lb" transform="translate(23.6,332.9) rotate(-90)" text-anchor="middle">Y Position</text>
<rect x="80.8" y="260.9" width="170.8" height="36.8" fill="#fff" stroke="#262626" stroke-width="1"/>
<line x1="85.3" y1="271.2" x2="130.5" y2="271.2" stroke="#00ff00" stroke-width="2.6"/>
<line x1="85.3" y1="287.8" x2="130.5" y2="287.8" stroke="#ff0000" stroke-width="2.0" stroke-dasharray="8.5 9.5"/>
<text class="lg" x="133.8" y="275.8">True Trajectory</text>
<text class="lg" x="133.5" y="292.4">Estimated Trajectory</text>
</g>
<g>
<clipPath id="c4"><rect x="328.2" y="250.6" width="216.0" height="163.0"/></clipPath>
<line class="gr" x1="398.5" y1="252.4" x2="398.5" y2="412.4"/>
<line class="gr" x1="467.7" y1="252.4" x2="467.7" y2="412.4"/>
<line class="gr" x1="537.5" y1="252.4" x2="537.5" y2="412.4"/>
<line class="gr" x1="329.4" y1="291.8" x2="543.0" y2="291.8"/>
<line class="gr" x1="329.4" y1="331.8" x2="543.0" y2="331.8"/>
<line class="gr" x1="329.4" y1="372.4" x2="543.0" y2="372.4"/>
<g clip-path="url(#c4)">
<g>
<polyline class="g" points="340.7,361.9 342.3,359.6 343.5,358.4 346.2,358.5 348.8,358.5 350.9,358.5 353.5,358.9 355.6,358.0 357.3,357.2 360.3,357.2 361.9,355.5 364.2,355.7 367.0,355.4 368.1,354.1 370.9,352.9 372.8,353.8 375.9,354.8 377.5,354.9 379.8,355.7 382.2,355.7 384.5,355.1 386.9,355.7 387.7,354.3 390.0,354.1 390.7,352.6 393.2,351.7 395.2,351.0 396.3,349.4 397.5,347.8"/>
<polyline class="g" points="398.3,344.3 397.9,342.3 398.7,341.2"/>
<polyline class="g" points="340.7,361.9 341.5,365.0 343.4,366.6 343.9,367.4 345.4,369.7 346.9,369.5 349.3,369.0 351.6,369.5 354.0,369.0 356.0,369.3 358.0,370.5 360.2,372.2 361.9,372.1 363.7,372.5 366.6,371.3 367.9,371.2 371.3,372.1 372.7,373.1 375.2,373.2 378.0,373.5 379.1,372.9 380.7,373.2 383.0,372.1 384.6,372.0 386.9,372.9 389.7,373.3 390.8,373.2 393.2,373.4 394.7,372.9 396.7,373.0"/>
<polyline class="g" points="390.0,354.1 391.4,356.0 390.8,358.0 390.7,360.0 389.3,361.1 388.0,361.8 385.3,362.7 383.4,363.2 380.7,363.5 378.7,364.1 377.5,365.8 377.0,366.5 376.0,369.0 377.5,371.3 380.3,370.2 381.4,370.5 382.1,369.0 384.6,369.0 387.0,369.4 387.7,370.5 388.5,370.9 390.8,373.2"/>
<polyline class="g" points="389.3,361.1 390.3,361.1 393.2,360.3 395.0,361.5 396.3,361.9 397.1,365.0 396.8,366.1 395.5,369.0 395.3,370.6 394.7,372.9"/>
<polyline class="g" points="396.3,349.4 397.9,350.6"/>
<polyline class="g" points="393.2,351.7 395.0,353.9 395.5,354.9 397.1,355.7"/>
<polyline class="g" points="345.4,369.7 345.0,370.0 343.1,372.1 342.3,374.1 340.0,374.4 340.1,375.2 338.4,377.6 339.0,378.4 340.7,380.7 340.6,383.0 342.3,383.8 344.1,385.3 344.7,386.2 346.9,385.3 347.8,383.8 348.9,381.9 350.9,381.5 352.1,381.2 354.8,379.9 355.8,380.1 358.0,381.0 359.5,383.8 358.6,384.4 358.0,387.0 358.6,387.7 360.3,389.3 361.9,390.2 362.7,391.7 364.2,393.0 366.6,392.4 368.9,393.5 371.3,393.2 373.8,393.1 376.0,394.8 378.1,394.7 380.7,394.8 383.5,394.1 385.3,394.0 388.1,394.1 390.0,394.0 390.8,397.1 389.3,399.5 386.7,400.6 385.3,400.3 382.2,401.0 379.4,400.9 378.3,399.5 375.7,398.9 374.4,400.3 371.8,400.4 370.5,399.5 369.9,397.7 367.3,397.9 364.2,397.1 362.6,396.3 361.1,395.6 360.5,393.8 358.7,393.2 357.6,391.7 356.4,390.9 354.8,388.5 354.3,386.5 352.5,385.4 351.8,383.8 349.3,383.0"/>
<polyline class="g" points="344.7,386.2 345.3,388.1 347.0,389.3 348.2,390.1 349.3,392.4 350.4,393.2 350.9,395.6 351.9,397.9 351.7,399.5 353.4,400.9 354.0,401.8 356.4,403.4 355.3,404.8 354.8,406.5 351.7,407.3 349.5,407.7 347.8,406.5 344.7,407.3 341.5,408.1 339.5,407.7 339.2,405.7 340.0,402.6 340.2,400.8 342.3,400.3 344.7,398.7 347.0,400.3 348.6,402.6 350.9,401.8"/>
<polyline class="g" points="350.9,395.6 353.3,394.0 355.6,395.6 356.4,398.7 355.1,401.1 354.8,401.8"/>
<polyline class="g" points="340.7,380.7 342.7,380.1 344.7,379.9 347.8,379.1 350.1,379.8 350.9,381.5"/>
<polyline class="g" points="358.7,393.2 357.9,394.8 357.2,396.3 358.0,399.5 357.7,401.9 356.4,403.4"/>
<polyline class="g" points="347.8,402.6 349.3,405.0 352.5,404.2"/>
<polyline class="g" points="426.4,318.9 428.4,317.6 431.0,318.9 429.7,321.6 432.3,322.2 434.2,321.3 435.6,320.9 436.9,319.6 438.9,319.6"/>
<polyline class="g" points="415.3,330.7 417.3,328.1 419.6,327.5 420.5,326.1 422.6,325.2 423.8,325.5 426.4,327.5 428.4,330.1 429.9,330.9 431.7,330.7 433.8,330.3 435.6,331.4 437.1,331.5 438.9,330.1 439.8,329.1"/>
<polyline class="g" points="415.3,330.7 415.1,331.7 415.9,334.0 418.6,336.0 421.2,337.3 422.4,337.0 424.5,336.0 427.1,334.0 429.4,333.0 430.3,333.3 431.3,333.2 433.6,334.0 434.9,334.7 436.9,335.3 438.5,335.6"/>
<polyline class="g" points="400.9,337.3 403.5,336.0 404.5,335.9 406.8,336.6 407.8,338.2 410.1,337.9 412.1,337.5 413.3,338.6 415.9,337.3 418.6,336.0"/>
<polyline class="g" points="400.9,337.3 401.2,338.1 399.6,340.5 401.5,343.2 403.0,344.5 404.8,343.8 407.4,342.5 410.1,341.2 412.3,341.3 413.3,340.5 414.8,340.3 416.6,341.2 418.5,340.7 419.9,341.9 420.9,341.3 423.1,341.2 423.8,340.7 426.4,340.5 428.6,341.3 429.7,341.2 431.3,342.1 433.0,342.5 435.6,344.5 438.2,346.4 439.8,346.8"/>
<polyline class="g" points="398.6,345.8 399.6,344.5 401.5,343.2"/>
<polyline class="g" points="404.8,343.8 406.1,346.4 404.8,349.1 402.9,351.0 400.2,350.4 398.3,351.7 398.6,353.0"/>
<polyline class="g" points="419.5,352.3 421.2,351.7 422.8,352.0"/>
<polyline class="g" points="429.4,352.3 431.0,351.7 432.6,350.3 434.3,350.4 436.9,349.1 438.2,346.4"/>
<polyline class="g" points="447.7,298.0 446.2,299.6 444.2,301.5 443.8,303.8 442.5,304.5 443.2,306.1 444.2,307.4 444.8,310.3 443.0,312.7 441.3,315.0"/>
<polyline class="g" points="451.3,313.8 453.6,314.4 455.9,313.1 457.1,312.1 458.3,311.1 460.6,309.2 463.2,309.1 464.2,308.0 466.3,309.0 467.7,308.6 469.8,308.0 471.2,306.8 472.9,305.5 474.7,305.0 476.5,303.1 477.7,302.7 480.0,300.9 482.9,299.8"/>
<polyline class="g" points="467.7,308.6 468.4,310.9 469.5,312.1 469.3,314.1 468.3,315.6 468.7,316.9 470.0,318.5 471.7,319.4 473.6,319.7 475.1,320.9 477.1,321.5 480.0,322.0 481.2,323.8 483.6,325.3 485.3,325.6 487.1,326.1 489.4,326.8 492.4,326.4 493.5,327.9 495.4,328.1 497.0,329.7 498.5,330.6"/>
<polyline class="g" points="467.7,309.2 468.9,310.9 467.7,313.3 469.5,315.6 468.3,318.0 470.0,320.3"/>
<polyline class="g" points="459.5,318.0 462.4,316.8 465.3,318.0 467.1,320.3 465.9,322.6 463.0,322.1 461.8,323.5 459.5,323.2"/>
<polyline class="g" points="480.6,331.5 482.4,330.1 484.1,330.3 486.0,330.7 487.6,330.9 489.8,331.2 491.2,331.5 493.2,332.4 494.7,332.0 496.4,332.6"/>
<polyline class="g" points="480.6,331.5 479.8,332.7 478.8,334.4 478.9,335.3 477.1,337.3 476.5,340.3 474.1,342.0 471.2,343.2"/>
<polyline class="g" points="459.5,329.7 461.6,330.6 463.0,332.0 464.7,332.5 465.3,334.4 463.6,336.7 461.2,335.6 460.1,332.6 459.5,329.7"/>
<polyline class="g" points="440.4,333.8 441.9,333.2 444.8,332.0 447.7,333.2 450.7,332.6 453.6,332.0 456.5,330.9 459.5,329.7"/>
<polyline class="g" points="441.0,340.0 442.5,340.8 444.6,341.7 444.8,343.2 447.2,344.9 447.7,343.6 450.1,343.2 452.4,342.0 455.4,343.2 458.3,344.4 459.5,347.3 461.2,349.6 462.7,349.9"/>
<polyline class="g" points="442.5,340.8 441.3,343.8 440.4,344.9"/>
<polyline class="g" points="447.2,344.9 446.0,347.9 445.1,349.1"/>
<polyline class="g" points="458.3,344.4 461.2,343.2 464.2,342.6 467.1,343.2 469.0,342.2 471.2,343.2"/>
<polyline class="g" points="465.9,349.9 467.7,349.6 469.3,349.2 471.2,349.1 473.1,347.9 474.1,347.3 474.8,345.6 476.5,344.9 478.4,344.9 479.4,343.2 482.4,342.6 485.3,343.2 487.6,344.4 489.4,346.7 488.8,349.6 487.6,350.5"/>
<polyline class="g" points="476.5,344.9 475.3,347.9 475.9,349.1"/>
<polyline class="g" points="485.3,343.2 487.6,341.4 490.6,340.3 493.5,340.8 494.7,341.5 495.9,343.2 497.0,346.1 497.9,347.7 497.6,349.6"/>
<polyline class="g" points="490.6,340.3 491.8,337.9"/>
<polyline class="g" points="477.7,302.7 478.6,303.1 480.6,305.0 482.0,307.1 482.4,308.0 485.3,309.2 487.3,309.4 488.8,309.7 491.8,308.6 492.8,306.5 493.5,305.6 495.6,304.2 495.9,303.3 497.0,302.4"/>
<polyline class="g" points="477.7,302.7 478.8,301.9 479.4,299.8 481.8,299.4 482.9,299.2 484.3,299.9 486.5,300.3 489.4,299.8 491.2,298.6"/>
<polyline class="g" points="398.9,370.3 400.2,369.0 400.1,368.0 401.5,365.7 401.9,364.8 402.9,362.5 403.0,360.6 404.2,359.2 404.0,357.4 404.8,355.9 404.2,353.3"/>
<polyline class="g" points="397.0,372.9 398.9,372.9 400.3,372.0 402.9,372.9 405.3,373.2 406.8,374.3 409.4,376.2 410.2,377.1 412.0,378.8 414.6,378.2 416.6,375.6 416.9,373.5 417.3,371.6 419.2,369.0 421.1,368.7 422.5,367.7 423.9,369.5 425.8,369.7 428.1,369.8 429.0,371.6 431.3,373.8 432.3,374.3 434.5,374.8 435.6,376.9 437.9,377.8 438.9,378.2 441.5,380.1 440.2,382.8 442.8,384.7 443.8,383.7 446.7,384.7 449.6,385.4 450.6,385.4 452.1,384.9 454.6,386.0 455.8,385.8 458.5,386.7 461.1,385.4 462.3,383.4 462.4,382.1 461.7,381.0 462.4,378.2 463.3,375.9 463.1,374.9 465.7,372.9 467.0,372.3"/>
<polyline class="g" points="397.0,355.6 398.9,355.3 401.7,355.2 402.9,354.6 405.4,355.3 406.8,355.3 409.5,356.2 410.7,355.9 413.4,355.0 414.6,355.3 417.0,355.7 418.6,355.9 421.0,356.1 422.5,356.6 425.2,356.0 426.4,355.3 427.9,354.1 430.3,354.0 431.6,353.3 434.3,352.7"/>
<polyline class="g" points="448.7,361.8 451.3,359.9 453.9,357.9 456.5,356.6 459.1,355.3 461.8,354.6 464.4,353.3"/>
<polyline class="g" points="448.7,361.8 451.3,363.8 452.0,364.4 454.6,365.1 455.5,365.4 457.8,365.7 460.5,367.1 463.1,368.4 465.7,367.7"/>
<polyline class="g" points="453.9,357.9 454.9,359.6 455.9,361.2 457.8,363.8 460.5,363.1 463.1,361.2 465.0,358.5 466.0,357.9"/>
<polyline class="g" points="498.5,330.2 500.6,330.9 503.2,331.0 504.3,333.1 506.4,334.5 507.2,336.0 508.4,337.8 509.4,338.9 511.1,340.1 511.5,341.8 512.8,343.8 514.5,344.0 515.1,345.4 517.4,346.2 519.1,346.3 520.3,348.4"/>
<polyline class="g" points="497.4,302.5 499.2,301.8 501.4,300.4"/>
<polyline class="g" points="497.0,334.2 498.5,335.3 499.8,337.1 500.6,338.2 502.6,339.3 502.8,341.1 504.9,342.6 505.0,344.0 506.4,346.2 507.9,346.9 508.4,348.4 510.8,349.1"/>
<polyline class="g" points="499.2,348.7 500.6,349.8"/>
<polyline class="g" points="519.5,355.3 521.3,356.4 522.5,358.2 524.6,359.4 525.4,361.1 527.1,362.6 529.0,364.0 531.0,364.9 531.9,366.9 533.6,367.5 535.5,368.4 537.1,370.1 538.5,370.5 539.5,372.3 541.4,372.7 543.5,373.5 545.0,374.2"/>
<polyline class="g" points="519.5,355.3 520.4,353.5 521.7,351.6 522.5,350.2"/>
<polyline class="g" points="533.7,350.5 532.6,351.6 529.7,352.4 527.5,350.2 526.5,349.1"/>
<polyline class="g" points="519.5,355.3 517.3,354.9 515.9,354.5 515.0,354.5 512.3,353.8 509.4,352.4 509.0,350.9"/>
<polyline class="g" points="512.3,353.8 511.0,353.8 508.6,354.5 506.5,354.5 505.0,355.3 502.1,354.5 500.6,357.5 501.4,360.4 499.9,363.3 501.2,365.0 502.1,366.2 504.3,366.9 502.8,369.8 501.9,370.4 499.9,372.7 498.5,374.6 496.3,374.9 494.5,374.0 492.6,374.9 490.4,373.6 489.0,374.2 486.1,372.7 484.6,369.8 483.2,368.4 481.5,370.7 481.0,371.3 478.1,372.0 476.5,372.7 474.5,372.7 471.5,373.5 470.8,375.6 473.7,377.1 476.1,378.4 477.4,378.1 479.4,378.9 481.0,379.3 483.9,378.5 486.1,376.4 486.8,374.2"/>
<polyline class="g" points="471.5,373.5 470.3,372.8 468.6,371.3 467.7,370.2 466.5,368.4 465.7,367.6"/>
<polyline class="g" points="466.5,373.5 467.9,372.7"/>
<polyline class="g" points="520.3,350.2 521.0,351.6"/>
<polyline class="g" points="473.7,349.8 475.2,350.9 476.1,352.3 478.1,353.1 481.0,354.5 482.4,356.2 483.9,356.7 486.8,358.2 489.7,356.7 490.4,355.0 492.6,354.5 492.8,353.6 494.8,351.6 495.5,350.2"/>
<polyline class="g" points="466.5,355.3 467.9,356.0 470.6,356.7 471.5,356.7 473.1,358.1 475.2,358.2 477.2,359.4 478.1,360.4 475.9,362.5 473.6,362.5 472.3,363.3 469.4,364.7 467.2,366.9"/>
<polyline class="g" points="481.0,354.5 481.2,356.0 481.7,358.2 480.5,359.9 479.5,361.1 478.1,360.4"/>
<polyline class="g" points="486.5,349.8 485.4,350.9 482.5,350.2 481.7,348.7"/>
<polyline class="g" points="519.5,355.3 521.5,352.6 521.7,351.6 523.2,348.7 524.8,346.4 526.1,345.8 527.1,345.7 529.7,344.4 531.3,346.3 532.6,346.5 533.6,347.0 534.8,349.5 532.6,351.6 529.7,352.4 527.5,350.2 525.4,348.0 523.2,348.7"/>
<polyline class="g" points="514.5,342.9 515.7,344.5 517.4,345.8 519.3,348.2 519.5,348.7 521.0,351.6 520.2,353.3 519.5,355.3"/>
<polyline class="g" points="435.0,259.6 435.7,258.1 438.0,256.0 439.4,255.1 442.0,255.6 443.0,255.3 446.0,257.0 447.9,257.2 449.0,259.0 451.9,257.7 453.0,258.0 455.2,258.3 456.0,260.0"/>
</g>
<g>
<polyline class="g" points="445.8,319.1 446.4,316.7 448.0,314.8 447.5,317.2 447.6,319.7 447.7,322.2 448.4,324.6 448.9,327.1 447.7,329.2 445.6,330.7 443.3,331.6 444.7,329.6 447.2,329.9 448.3,332.1 445.8,331.6 445.7,329.1 448.2,328.9 450.5,329.8 453.0,330.4 452.4,327.9 453.0,325.5 454.1,323.3 454.1,320.8 452.0,319.4 449.5,319.4 447.6,321.0 445.1,320.9 442.7,320.2 440.4,319.3 438.5,317.6 441.0,317.7 443.4,318.5 445.7,317.5 447.3,315.6 447.9,313.2 450.4,313.3 450.8,315.8 452.9,317.1 455.4,317.4 456.7,319.5 454.8,321.2 454.5,318.7 455.7,316.5 453.7,318.0 452.5,320.2 451.9,322.6 451.3,325.0 452.2,327.3 454.7,327.3 455.0,324.8 453.5,322.8 451.2,321.7 451.3,319.2 449.4,317.6 446.9,317.2 446.4,319.7 444.9,321.7 442.4,321.9 440.1,322.8 437.9,324.1 440.2,323.1 440.3,320.6 442.8,320.5 445.3,320.3 447.7,319.6 449.9,320.9 452.2,321.9 454.6,322.6 457.1,322.1 454.6,321.8 452.2,321.1 449.8,320.3 447.3,320.5 444.8,320.7 443.0,319.0 441.5,317.0 444.0,317.0 446.4,317.9 446.7,320.3 449.0,321.4 450.6,323.3 452.9,324.2 455.3,323.6 457.8,323.9 457.7,326.4 455.6,325.0 454.2,322.9 453.0,320.8 453.1,318.3 451.0,316.9 449.0,315.4 447.1,313.8 448.4,315.9 448.9,318.4 451.2,317.3 452.0,314.9 452.4,317.4 454.6,318.7 457.0,318.0 457.6,320.4 456.7,322.7 455.3,324.8 457.3,326.2 454.9,326.7 452.7,328.0 450.3,328.7"/>
<polyline class="g" points="426.6,330.5 428.7,331.7 429.9,333.8 431.5,335.6 432.6,337.7 432.7,340.1 431.7,337.9 431.7,335.5 434.1,335.7 436.4,336.4 434.0,336.4 431.6,336.5 429.8,334.9 427.6,333.9 425.8,332.3 427.3,330.4 424.9,329.9 423.1,331.5 421.1,332.8 418.7,333.3 416.3,333.3 414.1,334.2 416.5,334.6 418.8,333.9 418.5,336.3 417.6,338.5 419.6,337.2 421.3,335.5 422.9,333.7 420.5,333.4 418.2,334.0 416.1,332.8 413.9,333.7 415.9,335.1 416.6,337.4 417.0,335.0 416.7,332.6 415.8,330.4 417.0,332.5 418.1,330.3 420.4,329.7 420.8,327.3 423.2,327.6 425.5,328.2 426.4,330.5 427.5,332.6"/>
<polyline class="g" points="456.8,344.8 456.3,347.1 457.5,349.3 459.1,347.5 457.1,346.2 456.2,344.0 458.6,344.1 460.9,343.8 463.0,342.6 465.4,342.4 467.8,342.4 469.9,343.6 471.5,345.4 470.7,347.7 468.3,347.6 466.8,349.5 467.9,351.6 468.6,353.9 466.6,352.6 464.4,353.5 465.0,355.8 462.7,355.2 460.4,355.8 458.0,356.2 457.8,353.8 459.0,351.7 456.6,351.5 454.6,352.7 456.9,353.3 459.3,352.9 461.7,353.0 463.9,353.9 464.3,356.3 464.0,353.9 462.7,351.9 463.9,349.8 461.5,349.6 459.2,350.4 457.8,352.3 457.3,354.7 459.3,356.0 459.0,353.6 457.1,352.1 456.7,349.8 455.6,347.7 456.8,345.6 455.5,343.6 454.6,341.3 456.7,342.6 457.8,344.7 459.8,346.0 462.1,346.6 464.5,346.4 466.9,346.6 468.7,348.2 470.9,348.9 472.8,347.4 470.7,346.1 468.3,345.9 466.8,344.0 464.7,343.0"/>
<polyline class="g" points="440.3,339.2 442.5,338.3 444.9,337.9 445.6,340.2 446.3,342.5 445.2,340.4 443.8,338.4 441.4,338.5 439.3,339.7 437.1,338.8 435.7,340.8 435.4,343.2 437.7,342.6 440.0,342.0 442.2,342.9 444.3,344.1 446.5,343.1 446.3,340.7 444.9,338.8 445.2,336.4 444.4,334.1 442.4,332.9 440.0,333.1 439.4,335.4 439.0,337.8 440.7,339.5 441.8,341.6 443.5,339.9 445.5,338.6 446.7,336.6 444.6,335.3"/>
<polyline class="g" points="416.0,341.8 416.5,339.5 414.4,340.5 412.0,340.9 409.9,341.9 407.6,342.7 405.3,343.5 407.3,342.1 406.8,339.8 409.0,340.6 411.4,340.8 412.6,338.7 415.0,338.7 415.7,341.0 415.1,343.3 414.8,345.7 412.9,347.1 410.7,348.2 411.7,346.0 411.7,343.6 409.9,342.1 408.8,339.9 409.9,342.1 411.9,343.3 411.5,345.7 409.3,346.7"/>
</g>
<g>
<polyline class="r" points="340.7,361.9 342.3,359.6 343.5,358.4 346.2,358.5 348.8,358.5 350.9,358.5 353.5,358.9 355.6,358.0 357.3,357.2 360.3,357.2 361.9,355.5 364.2,355.7 367.0,355.4 368.1,354.1 370.9,352.9 372.8,353.8 375.9,354.8 377.5,354.9 379.8,355.7 382.2,355.7 384.5,355.1 386.9,355.7 387.7,354.3 390.0,354.1 390.7,352.6 393.2,351.7 395.2,351.0 396.3,349.4 397.5,347.8"/>
<polyline class="r" points="398.3,344.3 397.9,342.3 398.7,341.2"/>
<polyline class="r" points="340.7,361.9 341.5,365.0 343.4,366.6 343.9,367.4 345.4,369.7 346.9,369.5 349.3,369.0 351.6,369.5 354.0,369.0 356.0,369.3 358.0,370.5 360.2,372.2 361.9,372.1 363.7,372.5 366.6,371.3 367.9,371.2 371.3,372.1 372.7,373.1 375.2,373.2 378.0,373.5 379.1,372.9 380.7,373.2 383.0,372.1 384.6,372.0 386.9,372.9 389.7,373.3 390.8,373.2 393.2,373.4 394.7,372.9 396.7,373.0"/>
<polyline class="r" points="390.0,354.1 391.4,356.0 390.8,358.0 390.7,360.0 389.3,361.1 388.0,361.8 385.3,362.7 383.4,363.2 380.7,363.5 378.7,364.1 377.5,365.8 377.0,366.5 376.0,369.0 377.5,371.3 380.3,370.2 381.4,370.5 382.1,369.0 384.6,369.0 387.0,369.4 387.7,370.5 388.5,370.9 390.8,373.2"/>
<polyline class="r" points="389.3,361.1 390.3,361.1 393.2,360.3 395.0,361.5 396.3,361.9 397.1,365.0 396.8,366.1 395.5,369.0 395.3,370.6 394.7,372.9"/>
<polyline class="r" points="396.3,349.4 397.9,350.6"/>
<polyline class="r" points="393.2,351.7 395.0,353.9 395.5,354.9 397.1,355.7"/>
<polyline class="r" points="345.4,369.7 345.0,370.0 343.1,372.1 342.3,374.1 340.0,374.4 340.1,375.2 338.4,377.6 339.0,378.4 340.7,380.7 340.6,383.0 342.3,383.8 344.1,385.3 344.7,386.2 346.9,385.3 347.8,383.8 348.9,381.9 350.9,381.5 352.1,381.2 354.8,379.9 355.8,380.1 358.0,381.0 359.5,383.8 358.6,384.4 358.0,387.0 358.6,387.7 360.3,389.3 361.9,390.2 362.7,391.7 364.2,393.0 366.6,392.4 368.9,393.5 371.3,393.2 373.8,393.1 376.0,394.8 378.1,394.7 380.7,394.8 383.5,394.1 385.3,394.0 388.1,394.1 390.0,394.0 390.8,397.1 389.3,399.5 386.7,400.6 385.3,400.3 382.2,401.0 379.4,400.9 378.3,399.5 375.7,398.9 374.4,400.3 371.8,400.4 370.5,399.5 369.9,397.7 367.3,397.9 364.2,397.1 362.6,396.3 361.1,395.6 360.5,393.8 358.7,393.2 357.6,391.7 356.4,390.9 354.8,388.5 354.3,386.5 352.5,385.4 351.8,383.8 349.3,383.0"/>
<polyline class="r" points="344.7,386.2 345.3,388.1 347.0,389.3 348.2,390.1 349.3,392.4 350.4,393.2 350.9,395.6 351.9,397.9 351.7,399.5 353.4,400.9 354.0,401.8 356.4,403.4 355.3,404.8 354.8,406.5 351.7,407.3 349.5,407.7 347.8,406.5 344.7,407.3 341.5,408.1 339.5,407.7 339.2,405.7 340.0,402.6 340.2,400.8 342.3,400.3 344.7,398.7 347.0,400.3 348.6,402.6 350.9,401.8"/>
<polyline class="r" points="350.9,395.6 353.3,394.0 355.6,395.6 356.4,398.7 355.1,401.1 354.8,401.8"/>
<polyline class="r" points="340.7,380.7 342.7,380.1 344.7,379.9 347.8,379.1 350.1,379.8 350.9,381.5"/>
<polyline class="r" points="358.7,393.2 357.9,394.8 357.2,396.3 358.0,399.5 357.7,401.9 356.4,403.4"/>
<polyline class="r" points="347.8,402.6 349.3,405.0 352.5,404.2"/>
<polyline class="r" points="426.4,318.9 428.4,317.6 431.0,318.9 429.7,321.6 432.3,322.2 434.2,321.3 435.6,320.9 436.9,319.6 438.9,319.6"/>
<polyline class="r" points="415.3,330.7 417.3,328.1 419.6,327.5 420.5,326.1 422.6,325.2 423.8,325.5 426.4,327.5 428.4,330.1 429.9,330.9 431.7,330.7 433.8,330.3 435.6,331.4 437.1,331.5 438.9,330.1 439.8,329.1"/>
<polyline class="r" points="415.3,330.7 415.1,331.7 415.9,334.0 418.6,336.0 421.2,337.3 422.4,337.0 424.5,336.0 427.1,334.0 429.4,333.0 430.3,333.3 431.3,333.2 433.6,334.0 434.9,334.7 436.9,335.3 438.5,335.6"/>
<polyline class="r" points="400.9,337.3 403.5,336.0 404.5,335.9 406.8,336.6 407.8,338.2 410.1,337.9 412.1,337.5 413.3,338.6 415.9,337.3 418.6,336.0"/>
<polyline class="r" points="400.9,337.3 401.2,338.1 399.6,340.5 401.5,343.2 403.0,344.5 404.8,343.8 407.4,342.5 410.1,341.2 412.3,341.3 413.3,340.5 414.8,340.3 416.6,341.2 418.5,340.7 419.9,341.9 420.9,341.3 423.1,341.2 423.8,340.7 426.4,340.5 428.6,341.3 429.7,341.2 431.3,342.1 433.0,342.5 435.6,344.5 438.2,346.4 439.8,346.8"/>
<polyline class="r" points="398.6,345.8 399.6,344.5 401.5,343.2"/>
<polyline class="r" points="404.8,343.8 406.1,346.4 404.8,349.1 402.9,351.0 400.2,350.4 398.3,351.7 398.6,353.0"/>
<polyline class="r" points="419.5,352.3 421.2,351.7 422.8,352.0"/>
<polyline class="r" points="429.4,352.3 431.0,351.7 432.6,350.3 434.3,350.4 436.9,349.1 438.2,346.4"/>
<polyline class="r" points="447.7,298.0 446.2,299.6 444.2,301.5 443.8,303.8 442.5,304.5 443.2,306.1 444.2,307.4 444.8,310.3 443.0,312.7 441.3,315.0"/>
<polyline class="r" points="451.3,313.8 453.6,314.4 455.9,313.1 457.1,312.1 458.3,311.1 460.6,309.2 463.2,309.1 464.2,308.0 466.3,309.0 467.7,308.6 469.8,308.0 471.2,306.8 472.9,305.5 474.7,305.0 476.5,303.1 477.7,302.7 480.0,300.9 482.9,299.8"/>
<polyline class="r" points="467.7,308.6 468.4,310.9 469.5,312.1 469.3,314.1 468.3,315.6 468.7,316.9 470.0,318.5 471.7,319.4 473.6,319.7 475.1,320.9 477.1,321.5 480.0,322.0 481.2,323.8 483.6,325.3 485.3,325.6 487.1,326.1 489.4,326.8 492.4,326.4 493.5,327.9 495.4,328.1 497.0,329.7 498.5,330.6"/>
<polyline class="r" points="467.7,309.2 468.9,310.9 467.7,313.3 469.5,315.6 468.3,318.0 470.0,320.3"/>
<polyline class="r" points="459.5,318.0 462.4,316.8 465.3,318.0 467.1,320.3 465.9,322.6 463.0,322.1 461.8,323.5 459.5,323.2"/>
<polyline class="r" points="480.6,331.5 482.4,330.1 484.1,330.3 486.0,330.7 487.6,330.9 489.8,331.2 491.2,331.5 493.2,332.4 494.7,332.0 496.4,332.6"/>
<polyline class="r" points="480.6,331.5 479.8,332.7 478.8,334.4 478.9,335.3 477.1,337.3 476.5,340.3 474.1,342.0 471.2,343.2"/>
<polyline class="r" points="459.5,329.7 461.6,330.6 463.0,332.0 464.7,332.5 465.3,334.4 463.6,336.7 461.2,335.6 460.1,332.6 459.5,329.7"/>
<polyline class="r" points="440.4,333.8 441.9,333.2 444.8,332.0 447.7,333.2 450.7,332.6 453.6,332.0 456.5,330.9 459.5,329.7"/>
<polyline class="r" points="441.0,340.0 442.5,340.8 444.6,341.7 444.8,343.2 447.2,344.9 447.7,343.6 450.1,343.2 452.4,342.0 455.4,343.2 458.3,344.4 459.5,347.3 461.2,349.6 462.7,349.9"/>
<polyline class="r" points="442.5,340.8 441.3,343.8 440.4,344.9"/>
<polyline class="r" points="447.2,344.9 446.0,347.9 445.1,349.1"/>
<polyline class="r" points="458.3,344.4 461.2,343.2 464.2,342.6 467.1,343.2 469.0,342.2 471.2,343.2"/>
<polyline class="r" points="465.9,349.9 467.7,349.6 469.3,349.2 471.2,349.1 473.1,347.9 474.1,347.3 474.8,345.6 476.5,344.9 478.4,344.9 479.4,343.2 482.4,342.6 485.3,343.2 487.6,344.4 489.4,346.7 488.8,349.6 487.6,350.5"/>
<polyline class="r" points="476.5,344.9 475.3,347.9 475.9,349.1"/>
<polyline class="r" points="485.3,343.2 487.6,341.4 490.6,340.3 493.5,340.8 494.7,341.5 495.9,343.2 497.0,346.1 497.9,347.7 497.6,349.6"/>
<polyline class="r" points="490.6,340.3 491.8,337.9"/>
<polyline class="r" points="477.7,302.7 478.6,303.1 480.6,305.0 482.0,307.1 482.4,308.0 485.3,309.2 487.3,309.4 488.8,309.7 491.8,308.6 492.8,306.5 493.5,305.6 495.6,304.2 495.9,303.3 497.0,302.4"/>
<polyline class="r" points="477.7,302.7 478.8,301.9 479.4,299.8 481.8,299.4 482.9,299.2 484.3,299.9 486.5,300.3 489.4,299.8 491.2,298.6"/>
<polyline class="r" points="398.9,370.3 400.2,369.0 400.1,368.0 401.5,365.7 401.9,364.8 402.9,362.5 403.0,360.6 404.2,359.2 404.0,357.4 404.8,355.9 404.2,353.3"/>
<polyline class="r" points="397.0,372.9 398.9,372.9 400.3,372.0 402.9,372.9 405.3,373.2 406.8,374.3 409.4,376.2 410.2,377.1 412.0,378.8 414.6,378.2 416.6,375.6 416.9,373.5 417.3,371.6 419.2,369.0 421.1,368.7 422.5,367.7 423.9,369.5 425.8,369.7 428.1,369.8 429.0,371.6 431.3,373.8 432.3,374.3 434.5,374.8 435.6,376.9 437.9,377.8 438.9,378.2 441.5,380.1 440.2,382.8 442.8,384.7 443.8,383.7 446.7,384.7 449.6,385.4 450.6,385.4 452.1,384.9 454.6,386.0 455.8,385.8 458.5,386.7 461.1,385.4 462.3,383.4 462.4,382.1 461.7,381.0 462.4,378.2 463.3,375.9 463.1,374.9 465.7,372.9 467.0,372.3"/>
<polyline class="r" points="397.0,355.6 398.9,355.3 401.7,355.2 402.9,354.6 405.4,355.3 406.8,355.3 409.5,356.2 410.7,355.9 413.4,355.0 414.6,355.3 417.0,355.7 418.6,355.9 421.0,356.1 422.5,356.6 425.2,356.0 426.4,355.3 427.9,354.1 430.3,354.0 431.6,353.3 434.3,352.7"/>
<polyline class="r" points="448.7,361.8 451.3,359.9 453.9,357.9 456.5,356.6 459.1,355.3 461.8,354.6 464.4,353.3"/>
<polyline class="r" points="448.7,361.8 451.3,363.8 452.0,364.4 454.6,365.1 455.5,365.4 457.8,365.7 460.5,367.1 463.1,368.4 465.7,367.7"/>
<polyline class="r" points="453.9,357.9 454.9,359.6 455.9,361.2 457.8,363.8 460.5,363.1 463.1,361.2 465.0,358.5 466.0,357.9"/>
<polyline class="r" points="498.5,330.2 500.6,330.9 503.2,331.0 504.3,333.1 506.4,334.5 507.2,336.0 508.4,337.8 509.4,338.9 511.1,340.1 511.5,341.8 512.8,343.8 514.5,344.0 515.1,345.4 517.4,346.2 519.1,346.3 520.3,348.4"/>
<polyline class="r" points="497.4,302.5 499.2,301.8 501.4,300.4"/>
<polyline class="r" points="497.0,334.2 498.5,335.3 499.8,337.1 500.6,338.2 502.6,339.3 502.8,341.1 504.9,342.6 505.0,344.0 506.4,346.2 507.9,346.9 508.4,348.4 510.8,349.1"/>
<polyline class="r" points="499.2,348.7 500.6,349.8"/>
<polyline class="r" points="519.5,355.3 521.3,356.4 522.5,358.2 524.6,359.4 525.4,361.1 527.1,362.6 529.0,364.0 531.0,364.9 531.9,366.9 533.6,367.5 535.5,368.4 537.1,370.1 538.5,370.5 539.5,372.3 541.4,372.7 543.5,373.5 545.0,374.2"/>
<polyline class="r" points="519.5,355.3 520.4,353.5 521.7,351.6 522.5,350.2"/>
<polyline class="r" points="533.7,350.5 532.6,351.6 529.7,352.4 527.5,350.2 526.5,349.1"/>
<polyline class="r" points="519.5,355.3 517.3,354.9 515.9,354.5 515.0,354.5 512.3,353.8 509.4,352.4 509.0,350.9"/>
<polyline class="r" points="512.3,353.8 511.0,353.8 508.6,354.5 506.5,354.5 505.0,355.3 502.1,354.5 500.6,357.5 501.4,360.4 499.9,363.3 501.2,365.0 502.1,366.2 504.3,366.9 502.8,369.8 501.9,370.4 499.9,372.7 498.5,374.6 496.3,374.9 494.5,374.0 492.6,374.9 490.4,373.6 489.0,374.2 486.1,372.7 484.6,369.8 483.2,368.4 481.5,370.7 481.0,371.3 478.1,372.0 476.5,372.7 474.5,372.7 471.5,373.5 470.8,375.6 473.7,377.1 476.1,378.4 477.4,378.1 479.4,378.9 481.0,379.3 483.9,378.5 486.1,376.4 486.8,374.2"/>
<polyline class="r" points="471.5,373.5 470.3,372.8 468.6,371.3 467.7,370.2 466.5,368.4 465.7,367.6"/>
<polyline class="r" points="466.5,373.5 467.9,372.7"/>
<polyline class="r" points="520.3,350.2 521.0,351.6"/>
<polyline class="r" points="473.7,349.8 475.2,350.9 476.1,352.3 478.1,353.1 481.0,354.5 482.4,356.2 483.9,356.7 486.8,358.2 489.7,356.7 490.4,355.0 492.6,354.5 492.8,353.6 494.8,351.6 495.5,350.2"/>
<polyline class="r" points="466.5,355.3 467.9,356.0 470.6,356.7 471.5,356.7 473.1,358.1 475.2,358.2 477.2,359.4 478.1,360.4 475.9,362.5 473.6,362.5 472.3,363.3 469.4,364.7 467.2,366.9"/>
<polyline class="r" points="481.0,354.5 481.2,356.0 481.7,358.2 480.5,359.9 479.5,361.1 478.1,360.4"/>
<polyline class="r" points="486.5,349.8 485.4,350.9 482.5,350.2 481.7,348.7"/>
<polyline class="r" points="519.5,355.3 521.5,352.6 521.7,351.6 523.2,348.7 524.8,346.4 526.1,345.8 527.1,345.7 529.7,344.4 531.3,346.3 532.6,346.5 533.6,347.0 534.8,349.5 532.6,351.6 529.7,352.4 527.5,350.2 525.4,348.0 523.2,348.7"/>
<polyline class="r" points="514.5,342.9 515.7,344.5 517.4,345.8 519.3,348.2 519.5,348.7 521.0,351.6 520.2,353.3 519.5,355.3"/>
<polyline class="r" points="435.0,259.6 435.7,258.1 438.0,256.0 439.4,255.1 442.0,255.6 443.0,255.3 446.0,257.0 447.9,257.2 449.0,259.0 451.9,257.7 453.0,258.0 455.2,258.3 456.0,260.0"/>
</g>
<g>
<polyline class="r" points="445.8,319.1 446.4,316.7 448.0,314.8 447.5,317.2 447.6,319.7 447.7,322.2 448.4,324.6 448.9,327.1 447.7,329.2 445.6,330.7 443.3,331.6 444.7,329.6 447.2,329.9 448.3,332.1 445.8,331.6 445.7,329.1 448.2,328.9 450.5,329.8 453.0,330.4 452.4,327.9 453.0,325.5 454.1,323.3 454.1,320.8 452.0,319.4 449.5,319.4 447.6,321.0 445.1,320.9 442.7,320.2 440.4,319.3 438.5,317.6 441.0,317.7 443.4,318.5 445.7,317.5 447.3,315.6 447.9,313.2 450.4,313.3 450.8,315.8 452.9,317.1 455.4,317.4 456.7,319.5 454.8,321.2 454.5,318.7 455.7,316.5 453.7,318.0 452.5,320.2 451.9,322.6 451.3,325.0 452.2,327.3 454.7,327.3 455.0,324.8 453.5,322.8 451.2,321.7 451.3,319.2 449.4,317.6 446.9,317.2 446.4,319.7 444.9,321.7 442.4,321.9 440.1,322.8 437.9,324.1 440.2,323.1 440.3,320.6 442.8,320.5 445.3,320.3 447.7,319.6 449.9,320.9 452.2,321.9 454.6,322.6 457.1,322.1 454.6,321.8 452.2,321.1 449.8,320.3 447.3,320.5 444.8,320.7 443.0,319.0 441.5,317.0 444.0,317.0 446.4,317.9 446.7,320.3 449.0,321.4 450.6,323.3 452.9,324.2 455.3,323.6 457.8,323.9 457.7,326.4 455.6,325.0 454.2,322.9 453.0,320.8 453.1,318.3 451.0,316.9 449.0,315.4 447.1,313.8 448.4,315.9 448.9,318.4 451.2,317.3 452.0,314.9 452.4,317.4 454.6,318.7 457.0,318.0 457.6,320.4 456.7,322.7 455.3,324.8 457.3,326.2 454.9,326.7 452.7,328.0 450.3,328.7"/>
<polyline class="r" points="426.6,330.5 428.7,331.7 429.9,333.8 431.5,335.6 432.6,337.7 432.7,340.1 431.7,337.9 431.7,335.5 434.1,335.7 436.4,336.4 434.0,336.4 431.6,336.5 429.8,334.9 427.6,333.9 425.8,332.3 427.3,330.4 424.9,329.9 423.1,331.5 421.1,332.8 418.7,333.3 416.3,333.3 414.1,334.2 416.5,334.6 418.8,333.9 418.5,336.3 417.6,338.5 419.6,337.2 421.3,335.5 422.9,333.7 420.5,333.4 418.2,334.0 416.1,332.8 413.9,333.7 415.9,335.1 416.6,337.4 417.0,335.0 416.7,332.6 415.8,330.4 417.0,332.5 418.1,330.3 420.4,329.7 420.8,327.3 423.2,327.6 425.5,328.2 426.4,330.5 427.5,332.6"/>
<polyline class="r" points="456.8,344.8 456.3,347.1 457.5,349.3 459.1,347.5 457.1,346.2 456.2,344.0 458.6,344.1 460.9,343.8 463.0,342.6 465.4,342.4 467.8,342.4 469.9,343.6 471.5,345.4 470.7,347.7 468.3,347.6 466.8,349.5 467.9,351.6 468.6,353.9 466.6,352.6 464.4,353.5 465.0,355.8 462.7,355.2 460.4,355.8 458.0,356.2 457.8,353.8 459.0,351.7 456.6,351.5 454.6,352.7 456.9,353.3 459.3,352.9 461.7,353.0 463.9,353.9 464.3,356.3 464.0,353.9 462.7,351.9 463.9,349.8 461.5,349.6 459.2,350.4 457.8,352.3 457.3,354.7 459.3,356.0 459.0,353.6 457.1,352.1 456.7,349.8 455.6,347.7 456.8,345.6 455.5,343.6 454.6,341.3 456.7,342.6 457.8,344.7 459.8,346.0 462.1,346.6 464.5,346.4 466.9,346.6 468.7,348.2 470.9,348.9 472.8,347.4 470.7,346.1 468.3,345.9 466.8,344.0 464.7,343.0"/>
<polyline class="r" points="440.3,339.2 442.5,338.3 444.9,337.9 445.6,340.2 446.3,342.5 445.2,340.4 443.8,338.4 441.4,338.5 439.3,339.7 437.1,338.8 435.7,340.8 435.4,343.2 437.7,342.6 440.0,342.0 442.2,342.9 444.3,344.1 446.5,343.1 446.3,340.7 444.9,338.8 445.2,336.4 444.4,334.1 442.4,332.9 440.0,333.1 439.4,335.4 439.0,337.8 440.7,339.5 441.8,341.6 443.5,339.9 445.5,338.6 446.7,336.6 444.6,335.3"/>
<polyline class="r" points="416.0,341.8 416.5,339.5 414.4,340.5 412.0,340.9 409.9,341.9 407.6,342.7 405.3,343.5 407.3,342.1 406.8,339.8 409.0,340.6 411.4,340.8 412.6,338.7 415.0,338.7 415.7,341.0 415.1,343.3 414.8,345.7 412.9,347.1 410.7,348.2 411.7,346.0 411.7,343.6 409.9,342.1 408.8,339.9 409.9,342.1 411.9,343.3 411.5,345.7 409.3,346.7"/>
</g>
</g>
<rect class="ax" x="329.4" y="252.4" width="213.6" height="160.0"/>
<line x1="329.4" y1="412.4" x2="329.4" y2="410.2" stroke="#262626" stroke-width="1"/>
<text class="tk" x="328.1" y="433.2" text-anchor="middle">-30</text>
<line x1="398.5" y1="412.4" x2="398.5" y2="410.2" stroke="#262626" stroke-width="1"/>
<text class="tk" x="398.1" y="433.2" text-anchor="middle">-20</text>
<line x1="467.7" y1="412.4" x2="467.7" y2="410.2" stroke="#262626" stroke-width="1"/>
<text class="tk" x="466.9" y="433.2" text-anchor="middle">-10</text>
<line x1="537.5" y1="412.4" x2="537.5" y2="410.2" stroke="#262626" stroke-width="1"/>
<text class="tk" x="537.4" y="433.2" text-anchor="middle">0</text>
<line x1="329.4" y1="252.4" x2="331.6" y2="252.4" stroke="#262626" stroke-width="1"/>
<text class="tk" x="323.8" y="257.8" text-anchor="end">30</text>
<line x1="329.4" y1="291.8" x2="331.6" y2="291.8" stroke="#262626" stroke-width="1"/>
<text class="tk" x="323.8" y="297.7" text-anchor="end">20</text>
<line x1="329.4" y1="331.8" x2="331.6" y2="331.8" stroke="#262626" stroke-width="1"/>
<text class="tk" x="323.8" y="337.6" text-anchor="end">10</text>
<line x1="329.4" y1="372.4" x2="331.6" y2="372.4" stroke="#262626" stroke-width="1"/>
<text class="tk" x="323.8" y="379.0" text-anchor="end">0</text>
<line x1="329.4" y1="412.4" x2="331.6" y2="412.4" stroke="#262626" stroke-width="1"/>
<text class="tk" x="323.8" y="419.1" text-anchor="end">-10</text>
<text class="tt" x="436.2" y="245.8" text-anchor="middle">EKF Sim (4)</text>
<text class="lb" x="435.3" y="452.6" text-anchor="middle">X Position</text>
<text class="lb" transform="translate(297.0,332.9) rotate(-90)" text-anchor="middle">Y Position</text>
<rect x="363.3" y="260.9" width="170.7" height="36.8" fill="#fff" stroke="#262626" stroke-width="1"/>
<line x1="367.8" y1="271.2" x2="413.0" y2="271.2" stroke="#00ff00" stroke-width="2.6"/>
<line x1="367.8" y1="287.8" x2="413.0" y2="287.8" stroke="#ff0000" stroke-width="2.0" stroke-dasharray="8.5 9.5"/>
<text class="lg" x="416.3" y="275.8">True Trajectory</text>
<text class="lg" x="416.0" y="292.4">Estimated Trajectory</text>
</g>
</svg></body></html>
